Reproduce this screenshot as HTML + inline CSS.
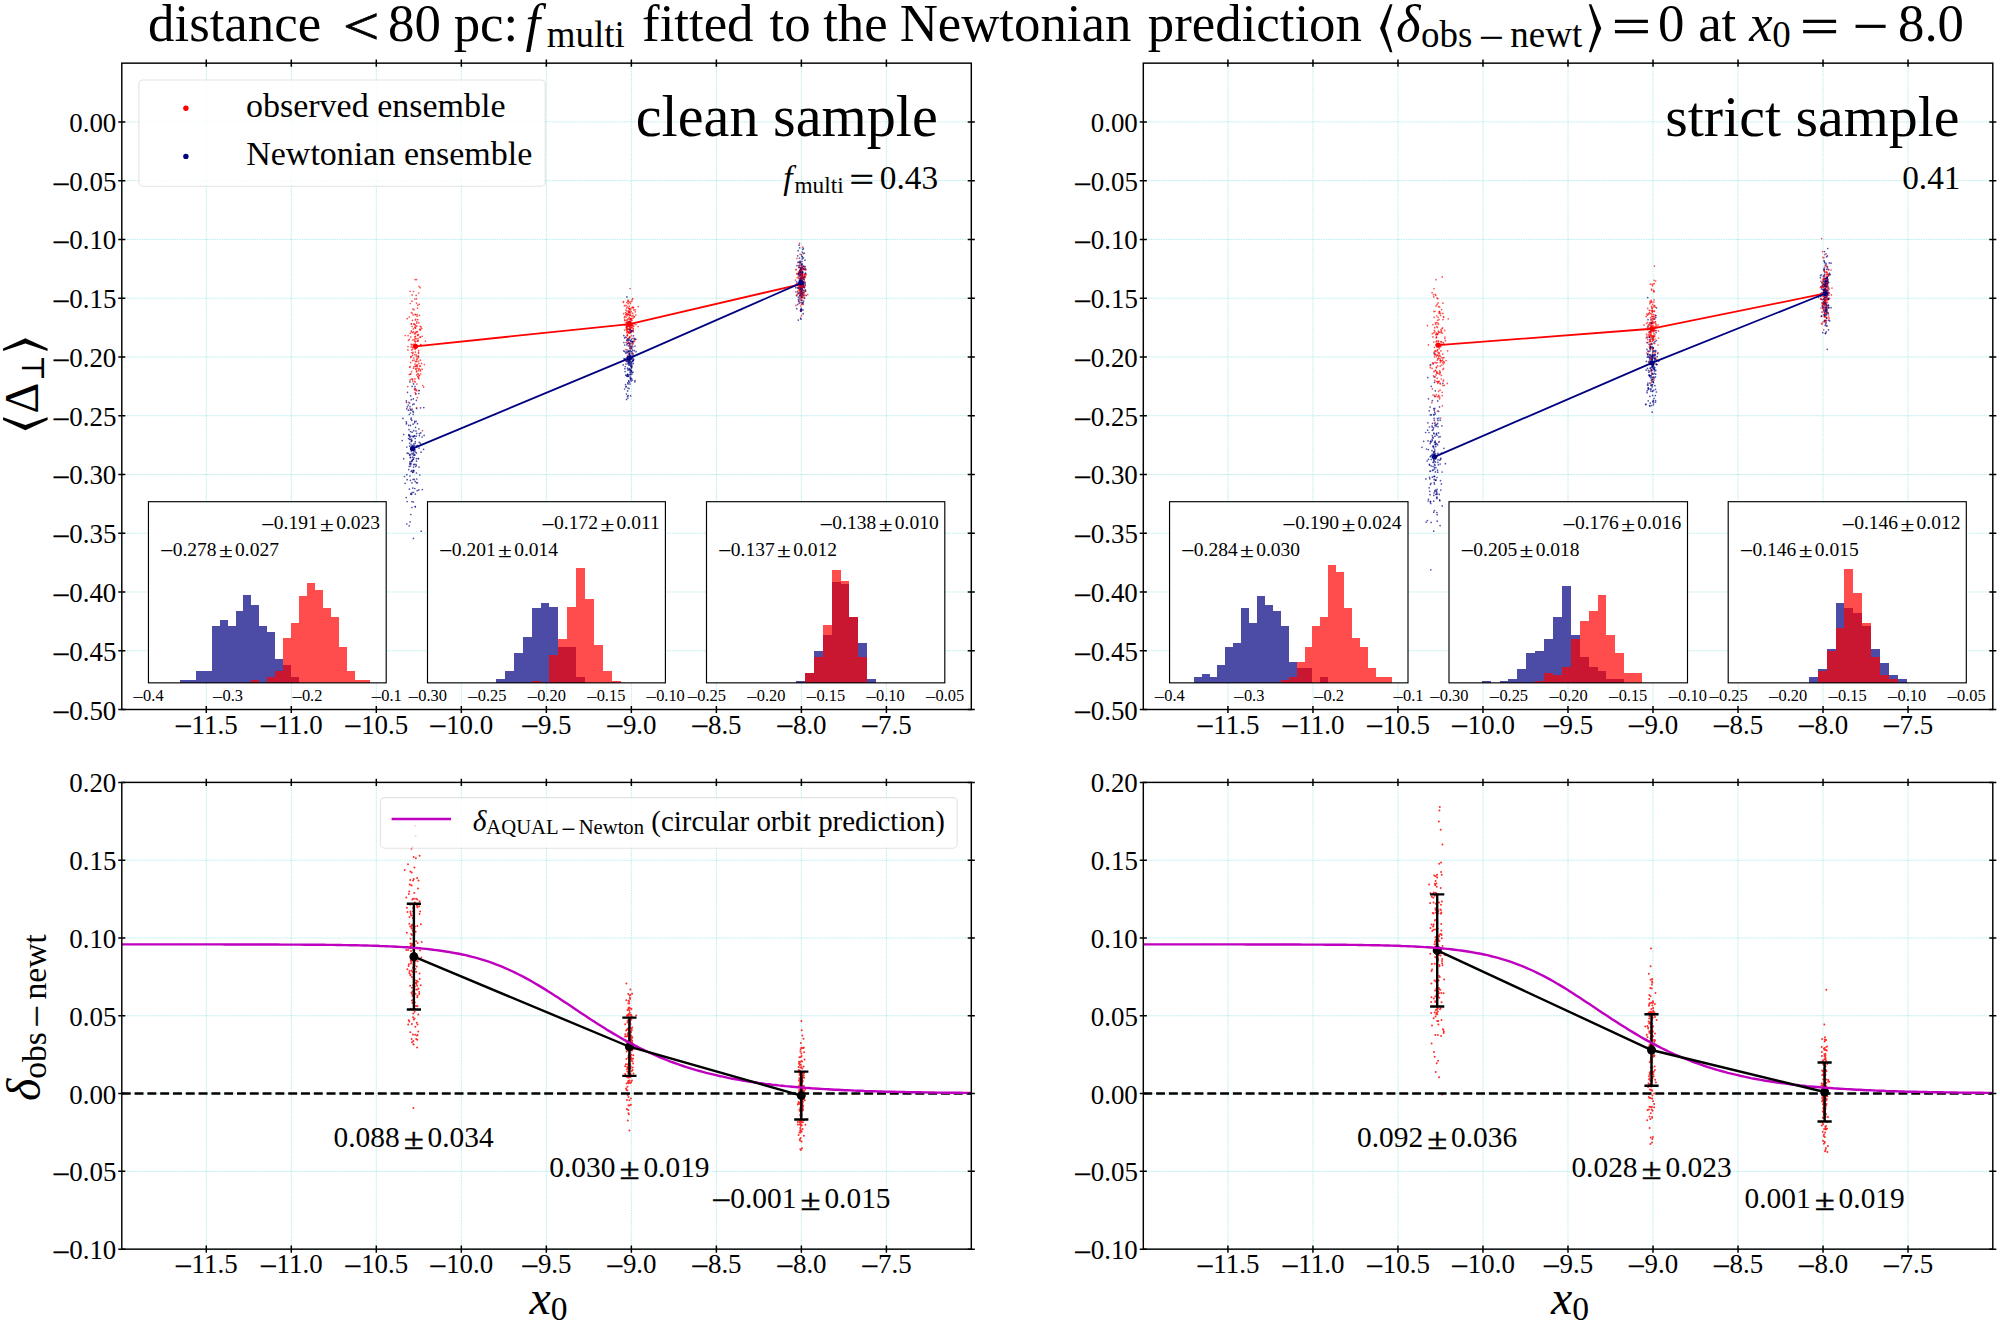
<!DOCTYPE html>
<html><head><meta charset="utf-8"><title>Wide binary gravity test: distance &lt; 80 pc</title>
<style>html,body{margin:0;padding:0;background:#fff}svg{display:block}text{font-family:"Liberation Serif",serif;fill:#000}text.math{font-family:"DejaVu Math TeX Gyre","DejaVu Sans",sans-serif}text.dsans{font-family:"DejaVu Sans",sans-serif}</style></head><body>
<svg width="2000" height="1324" viewBox="0 0 2000 1324">
<rect width="2000" height="1324" fill="#fff"/>
<defs><clipPath id="cb0"><rect x="121.8" y="782.4" width="849.5" height="466.75"/></clipPath><clipPath id="cb1"><rect x="1143.3" y="782.4" width="849.5" height="466.75"/></clipPath></defs>
<g>
<path d="M206.29,63.15V709.5M291.3,63.15V709.5M376.31,63.15V709.5M461.33,63.15V709.5M546.35,63.15V709.5M631.36,63.15V709.5M716.38,63.15V709.5M801.39,63.15V709.5M886.4,63.15V709.5M121.8,121.91H971.3M121.8,180.67H971.3M121.8,239.43H971.3M121.8,298.19H971.3M121.8,356.95H971.3M121.8,415.7H971.3M121.8,474.46H971.3M121.8,533.22H971.3M121.8,591.98H971.3M121.8,650.74H971.3M121.8,709.5H971.3" fill="none" stroke="#00bbbb" stroke-opacity="0.34" stroke-width="0.85" stroke-dasharray="1.5 1.0"/>
<path d="M410.1,408.5h0M420.3,366.2h0M412.2,326.5h0M414.5,333.8h0M415.2,349.3h0M412.7,355.6h0M410.3,303.5h0M418.0,338.7h0M416.9,321.8h0M408.1,335.7h0M424.4,364.5h0M419.2,304.3h0M412.6,379.8h0M418.9,378.7h0M413.7,358.0h0M415.3,366.1h0M418.5,361.4h0M410.7,362.6h0M417.7,319.7h0M420.8,344.9h0M634.3,316.8h0M632.2,345.3h0M628.2,303.7h0M627.2,319.9h0M627.0,325.0h0M627.7,323.8h0M630.5,328.9h0M631.8,301.3h0M623.4,302.3h0M629.4,337.8h0M626.5,326.5h0M631.3,320.1h0M632.0,307.5h0M627.4,355.4h0M628.3,312.0h0M626.9,302.5h0M630.6,328.4h0M625.2,324.7h0M626.5,308.0h0M627.7,319.3h0M801.1,297.9h0M805.2,269.9h0M801.5,275.6h0M801.5,315.7h0M800.6,306.0h0M800.7,286.6h0M801.8,299.9h0M800.7,269.6h0M802.2,281.9h0M801.5,277.3h0M802.5,272.9h0M800.5,268.1h0M800.9,287.2h0M801.8,276.5h0M801.5,280.9h0M801.5,274.5h0M803.8,277.3h0M799.1,267.1h0M797.3,277.5h0M802.9,289.6h0" stroke="#ff0000" stroke-opacity="0.68" stroke-width="1.7" stroke-linecap="round" fill="none"/>
<path d="M410.6,463.7h0M416.4,458.7h0M416.0,431.1h0M409.0,429.6h0M412.1,432.2h0M412.7,472.0h0M415.3,494.1h0M409.9,439.5h0M411.1,444.6h0M412.3,460.3h0M415.3,441.7h0M416.1,421.3h0M410.7,454.7h0M419.4,435.6h0M414.3,479.3h0M409.7,455.3h0M406.8,474.7h0M410.8,494.2h0M403.7,434.5h0M413.4,538.4h0M625.9,353.2h0M631.8,362.1h0M630.5,370.1h0M628.0,376.2h0M629.5,354.7h0M628.2,364.1h0M628.5,363.6h0M628.7,362.9h0M629.6,368.7h0M629.3,363.5h0M627.6,368.2h0M626.9,357.7h0M635.1,380.6h0M626.6,376.1h0M629.2,357.7h0M632.8,360.9h0M632.2,355.6h0M627.6,325.4h0M635.0,346.0h0M634.3,339.8h0M799.2,301.1h0M797.9,262.4h0M802.0,256.3h0M798.6,301.3h0M800.8,285.7h0M801.0,294.9h0M799.5,272.5h0M802.8,302.5h0M802.5,276.4h0M801.5,277.9h0M802.5,267.8h0M803.0,309.8h0M800.5,294.0h0M802.4,286.2h0M801.5,270.0h0M801.2,282.1h0M800.2,272.9h0M804.8,277.0h0M801.9,295.8h0M798.2,285.0h0" stroke="#000080" stroke-opacity="0.68" stroke-width="1.7" stroke-linecap="round" fill="none"/>
<path d="M420.5,336.9h0M414.4,389.3h0M418.9,369.3h0M409.3,317.1h0M414.9,378.9h0M417.2,314.5h0M410.4,374.2h0M415.2,338.3h0M422.1,369.2h0M425.4,341.1h0M418.5,370.7h0M418.6,353.3h0M411.9,301.2h0M410.9,356.5h0M410.1,291.3h0M417.6,358.8h0M418.4,378.1h0M413.0,344.3h0M410.8,357.4h0M416.5,298.9h0M632.8,341.4h0M636.0,339.3h0M629.6,337.5h0M626.2,342.6h0M629.7,324.3h0M627.2,330.9h0M630.7,323.7h0M626.5,315.1h0M628.5,301.1h0M629.5,321.4h0M630.9,348.4h0M629.3,306.2h0M632.9,325.8h0M629.8,309.2h0M624.6,330.1h0M632.0,320.3h0M628.7,326.0h0M627.7,324.6h0M633.6,307.7h0M626.8,332.7h0M800.8,282.5h0M804.2,297.3h0M801.2,280.1h0M798.9,266.0h0M805.9,291.0h0M802.2,303.4h0M800.4,284.8h0M799.8,289.9h0M802.5,283.9h0M799.9,290.9h0M802.1,282.9h0M803.8,295.9h0M798.4,265.5h0M800.6,286.6h0M802.3,277.8h0M804.8,274.9h0M803.3,285.7h0M800.4,278.5h0M804.4,286.8h0M800.6,289.2h0" stroke="#ff0000" stroke-opacity="0.68" stroke-width="1.7" stroke-linecap="round" fill="none"/>
<path d="M414.8,450.3h0M417.5,423.7h0M414.6,435.7h0M406.2,497.6h0M411.6,440.7h0M415.3,506.5h0M404.5,476.5h0M409.6,403.0h0M415.1,443.4h0M412.9,411.1h0M405.1,483.3h0M410.8,514.5h0M412.8,472.3h0M420.6,407.8h0M411.0,419.2h0M409.2,414.5h0M413.6,453.2h0M414.0,451.3h0M414.8,454.9h0M418.2,356.4h0M628.7,351.4h0M626.2,360.1h0M631.3,371.2h0M629.1,388.5h0M628.8,381.3h0M627.4,396.3h0M628.0,376.5h0M630.0,384.1h0M632.0,374.0h0M624.0,358.5h0M623.2,364.9h0M632.2,343.8h0M627.3,343.5h0M631.4,341.5h0M629.9,344.2h0M632.9,353.8h0M632.0,366.6h0M628.8,350.8h0M629.1,362.2h0M630.4,361.5h0M802.2,288.9h0M795.8,287.7h0M801.7,296.2h0M802.8,272.8h0M804.1,279.2h0M801.6,310.0h0M799.7,273.1h0M805.2,291.3h0M803.3,304.1h0M803.9,266.5h0M800.6,283.7h0M802.5,278.5h0M797.5,285.4h0M802.2,284.0h0M796.8,308.7h0M799.0,272.9h0M798.1,293.7h0M803.6,283.3h0M803.1,284.6h0M799.9,297.0h0" stroke="#000080" stroke-opacity="0.68" stroke-width="1.7" stroke-linecap="round" fill="none"/>
<path d="M416.7,323.1h0M415.0,314.4h0M420.3,329.3h0M415.1,279.6h0M415.2,324.9h0M411.3,332.0h0M416.0,368.8h0M420.6,370.9h0M415.7,341.4h0M415.8,319.4h0M417.1,316.2h0M416.6,371.9h0M417.5,332.0h0M417.5,341.1h0M417.8,376.6h0M412.5,332.5h0M416.6,407.7h0M409.4,339.3h0M416.5,279.6h0M410.7,373.9h0M629.7,322.1h0M627.6,321.4h0M633.2,329.3h0M628.5,352.8h0M630.1,319.8h0M625.7,361.0h0M633.4,343.7h0M626.6,330.2h0M632.0,318.7h0M632.5,313.1h0M632.8,313.5h0M634.4,316.5h0M626.3,329.0h0M630.6,308.5h0M629.9,327.7h0M630.6,309.7h0M632.5,353.2h0M629.8,336.6h0M627.3,331.7h0M629.2,324.3h0M801.0,286.5h0M802.1,278.1h0M799.0,298.8h0M807.8,294.6h0M803.8,293.4h0M801.8,290.5h0M800.1,270.2h0M798.9,284.2h0M802.1,287.5h0M802.8,282.1h0M800.5,271.3h0M800.9,292.7h0M802.5,271.7h0M801.2,311.3h0M797.4,294.3h0M802.7,266.4h0M801.8,265.4h0M802.8,281.5h0M799.7,288.8h0M796.9,274.0h0" stroke="#ff0000" stroke-opacity="0.68" stroke-width="1.7" stroke-linecap="round" fill="none"/>
<path d="M412.4,445.6h0M407.5,392.3h0M412.9,454.0h0M412.8,404.6h0M416.4,482.7h0M415.9,464.3h0M409.9,437.0h0M415.6,466.4h0M416.5,461.2h0M412.0,453.3h0M416.3,465.4h0M413.3,398.9h0M413.4,412.2h0M412.1,492.6h0M415.8,393.7h0M423.6,449.3h0M413.6,449.0h0M408.3,453.3h0M411.8,420.3h0M410.5,425.4h0M631.6,351.5h0M627.9,376.0h0M625.5,384.7h0M629.8,352.9h0M629.4,329.2h0M629.1,339.9h0M626.9,296.9h0M631.2,381.0h0M624.9,368.7h0M628.3,395.7h0M633.0,372.2h0M626.6,327.3h0M630.7,331.9h0M630.8,374.7h0M630.7,363.4h0M625.1,371.6h0M632.3,380.1h0M630.0,362.1h0M630.9,363.5h0M630.4,356.6h0M803.7,301.0h0M801.3,285.6h0M797.0,265.7h0M800.3,292.7h0M797.5,291.9h0M801.3,282.2h0M801.9,291.6h0M799.6,265.1h0M802.8,277.0h0M803.4,248.4h0M799.3,280.4h0M802.3,252.3h0M801.0,291.6h0M800.6,280.1h0M804.7,298.1h0M799.7,288.7h0M800.4,287.6h0M801.0,274.6h0M802.4,264.1h0M802.8,286.8h0" stroke="#000080" stroke-opacity="0.68" stroke-width="1.7" stroke-linecap="round" fill="none"/>
<path d="M415.2,345.9h0M417.3,397.6h0M413.9,366.8h0M415.9,325.9h0M409.3,374.5h0M412.2,347.3h0M418.1,356.0h0M411.1,356.6h0M418.0,341.2h0M410.2,333.3h0M412.1,313.1h0M411.3,323.9h0M415.5,361.6h0M417.5,308.1h0M411.4,312.6h0M414.8,388.5h0M421.7,328.4h0M414.3,324.1h0M412.4,320.3h0M417.0,331.6h0M633.7,355.2h0M626.3,313.7h0M629.7,311.4h0M626.9,314.0h0M632.5,330.9h0M625.0,305.4h0M628.6,331.3h0M629.2,312.5h0M629.8,325.0h0M635.9,324.5h0M633.7,326.2h0M626.7,324.5h0M635.3,309.8h0M626.3,305.6h0M624.4,305.8h0M625.5,312.5h0M630.0,315.6h0M630.9,318.4h0M623.5,301.5h0M630.7,329.9h0M798.7,288.5h0M801.9,265.4h0M805.7,269.7h0M806.3,274.6h0M801.9,293.6h0M798.3,272.1h0M800.6,286.5h0M802.3,286.3h0M802.2,288.5h0M801.5,285.0h0M804.1,277.6h0M799.4,273.5h0M796.8,273.5h0M799.5,243.4h0M798.9,287.5h0M806.0,269.7h0M800.9,291.2h0M798.3,285.7h0M802.6,297.1h0M803.4,269.1h0" stroke="#ff0000" stroke-opacity="0.68" stroke-width="1.7" stroke-linecap="round" fill="none"/>
<path d="M413.9,464.6h0M412.2,446.3h0M422.3,489.5h0M415.5,389.0h0M419.8,475.0h0M410.0,476.1h0M411.9,470.7h0M420.5,443.4h0M406.4,424.0h0M413.2,459.1h0M406.8,447.0h0M418.5,458.6h0M407.3,406.8h0M411.6,440.5h0M412.0,501.6h0M406.3,400.8h0M422.1,437.0h0M412.1,386.4h0M419.0,467.1h0M410.1,463.4h0M629.7,353.9h0M632.9,346.8h0M633.4,335.8h0M624.6,359.4h0M627.5,361.5h0M629.1,358.0h0M623.7,350.9h0M633.5,360.3h0M627.5,374.2h0M631.1,366.6h0M630.2,346.1h0M629.0,374.9h0M626.9,344.9h0M628.6,380.8h0M629.8,348.2h0M631.7,348.5h0M629.0,361.6h0M628.5,358.5h0M628.9,361.9h0M633.1,330.8h0M799.2,303.3h0M804.0,283.1h0M805.0,285.4h0M805.4,289.9h0M801.5,271.0h0M800.1,267.1h0M798.9,292.7h0M801.9,292.8h0M801.0,319.2h0M801.1,291.6h0M799.9,271.0h0M796.5,295.6h0M800.6,270.0h0M800.8,273.2h0M800.4,274.0h0M798.2,273.7h0M800.6,283.7h0M800.9,268.2h0M798.8,267.6h0M802.5,277.6h0" stroke="#000080" stroke-opacity="0.68" stroke-width="1.7" stroke-linecap="round" fill="none"/>
<path d="M414.7,381.4h0M412.8,353.6h0M408.7,402.3h0M418.6,350.6h0M413.3,291.5h0M415.5,327.9h0M411.5,323.8h0M420.4,360.2h0M418.3,373.8h0M419.2,375.3h0M415.1,343.0h0M417.3,368.1h0M418.9,363.6h0M419.4,315.4h0M416.7,390.7h0M415.3,381.9h0M414.1,360.2h0M412.7,349.1h0M411.8,349.9h0M416.9,384.1h0M628.8,332.4h0M631.4,323.6h0M628.5,345.8h0M631.9,327.3h0M631.0,325.0h0M626.3,337.5h0M633.4,331.7h0M630.1,315.2h0M631.5,327.2h0M632.9,323.3h0M626.9,310.9h0M629.3,332.2h0M627.3,339.0h0M627.0,324.8h0M630.2,318.7h0M630.4,347.7h0M633.1,315.7h0M633.2,328.3h0M629.4,329.6h0M627.2,335.4h0M801.4,280.3h0M801.7,281.8h0M803.5,284.7h0M802.4,272.4h0M799.8,289.1h0M802.5,278.5h0M803.3,253.5h0M802.0,284.9h0M803.1,290.6h0M802.5,295.1h0M800.8,273.6h0M801.0,282.4h0M802.6,292.0h0M800.1,293.0h0M803.7,282.8h0M803.9,295.0h0M797.0,258.4h0M801.2,285.4h0M799.7,285.2h0M800.0,284.2h0" stroke="#ff0000" stroke-opacity="0.68" stroke-width="1.7" stroke-linecap="round" fill="none"/>
<path d="M407.1,453.2h0M413.5,492.3h0M413.4,459.3h0M423.8,407.6h0M408.7,425.3h0M406.8,524.0h0M410.0,406.6h0M413.8,436.1h0M414.8,421.4h0M409.8,446.2h0M411.4,441.4h0M414.7,445.7h0M416.8,445.8h0M410.4,480.4h0M413.2,414.3h0M402.2,440.6h0M409.0,435.2h0M414.3,436.5h0M412.6,457.1h0M411.9,449.3h0M630.4,365.3h0M627.8,370.0h0M626.2,352.0h0M628.5,340.1h0M627.1,352.7h0M628.5,360.5h0M633.3,341.5h0M631.5,370.5h0M630.2,370.8h0M630.7,378.3h0M634.2,338.4h0M626.5,394.1h0M630.8,379.1h0M629.0,354.1h0M630.0,351.5h0M629.8,329.8h0M628.7,351.2h0M631.1,366.2h0M623.8,335.6h0M630.4,340.8h0M801.1,283.0h0M801.5,264.2h0M802.0,261.4h0M800.7,291.2h0M801.0,270.6h0M802.3,281.5h0M802.8,249.5h0M803.1,286.8h0M800.8,291.0h0M802.8,295.1h0M803.6,269.4h0M798.3,297.1h0M800.3,273.2h0M801.1,289.5h0M801.2,263.4h0M805.0,260.2h0M803.7,266.2h0M800.9,309.6h0M801.0,302.7h0M798.3,320.1h0" stroke="#000080" stroke-opacity="0.68" stroke-width="1.7" stroke-linecap="round" fill="none"/>
<path d="M414.6,341.1h0M407.9,349.9h0M414.9,336.8h0M419.5,375.6h0M414.5,339.7h0M408.5,340.4h0M415.0,364.2h0M418.5,352.3h0M416.3,361.4h0M413.9,309.7h0M422.5,430.7h0M422.7,385.5h0M415.1,392.5h0M418.6,356.6h0M417.0,364.7h0M418.5,357.5h0M421.0,326.9h0M418.6,390.5h0M415.8,369.2h0M413.0,352.4h0M638.1,326.6h0M635.3,311.8h0M629.2,317.4h0M627.0,313.7h0M628.4,328.9h0M630.3,303.6h0M632.6,307.7h0M632.1,324.4h0M630.7,358.2h0M628.8,323.4h0M630.0,288.5h0M628.7,324.9h0M629.7,337.4h0M629.2,302.1h0M630.9,332.1h0M624.4,317.7h0M628.6,314.2h0M628.7,343.2h0M626.4,322.5h0M629.0,308.7h0M801.6,304.5h0M800.9,300.3h0M802.5,287.4h0M802.0,283.4h0M802.1,297.7h0M799.7,263.1h0M800.6,277.7h0M804.4,267.9h0M796.1,269.3h0M804.9,285.8h0M800.1,254.3h0M803.8,281.7h0M795.9,305.4h0M800.4,310.7h0M803.1,283.1h0M801.6,272.8h0M803.4,282.3h0M799.5,262.6h0M800.1,286.6h0M799.9,276.4h0" stroke="#ff0000" stroke-opacity="0.68" stroke-width="1.7" stroke-linecap="round" fill="none"/>
<path d="M418.8,489.9h0M411.6,439.1h0M408.5,438.6h0M413.4,455.1h0M413.4,502.0h0M408.3,405.0h0M416.5,452.9h0M419.1,448.1h0M410.4,457.3h0M409.3,466.4h0M412.3,460.3h0M417.4,482.8h0M410.5,466.0h0M409.9,381.9h0M410.4,409.9h0M413.6,383.9h0M413.5,467.1h0M412.0,507.5h0M417.2,490.7h0M421.2,531.2h0M631.4,339.3h0M627.0,340.8h0M627.0,349.8h0M634.7,381.8h0M627.2,375.3h0M628.6,326.1h0M627.5,357.4h0M628.0,388.0h0M627.8,357.3h0M623.9,342.5h0M636.0,351.7h0M627.6,357.9h0M630.6,395.9h0M629.4,357.2h0M633.2,360.4h0M631.5,330.9h0M632.6,358.1h0M632.7,359.0h0M631.8,365.4h0M629.7,360.2h0M799.1,245.2h0M804.0,290.6h0M797.6,288.0h0M802.5,281.6h0M799.7,273.8h0M800.6,286.9h0M801.0,281.3h0M805.1,282.4h0M801.9,300.6h0M802.3,256.8h0M803.4,257.9h0M796.6,281.8h0M805.2,284.1h0M797.7,255.8h0M799.7,247.8h0M802.7,281.4h0M798.7,273.7h0M797.6,287.9h0M803.7,277.4h0M800.6,318.1h0" stroke="#000080" stroke-opacity="0.68" stroke-width="1.7" stroke-linecap="round" fill="none"/>
<path d="M412.4,378.9h0M415.4,336.4h0M419.9,337.4h0M416.6,365.6h0M415.7,394.2h0M416.5,303.1h0M415.6,333.6h0M417.6,334.9h0M411.2,344.4h0M408.0,346.6h0M413.9,323.9h0M411.1,346.8h0M421.6,363.4h0M414.9,327.2h0M414.5,344.8h0M409.7,367.2h0M416.6,370.9h0M413.1,314.9h0M419.8,329.3h0M418.7,293.0h0M626.7,328.4h0M627.7,315.6h0M628.7,324.4h0M628.8,310.8h0M628.0,300.1h0M632.5,338.3h0M630.0,327.8h0M630.4,319.0h0M630.1,332.3h0M627.7,334.8h0M627.1,328.6h0M631.8,327.6h0M628.5,332.5h0M624.7,319.8h0M623.6,313.6h0M630.1,314.4h0M627.5,315.3h0M629.3,308.6h0M628.0,341.7h0M628.4,325.5h0M802.4,274.4h0M802.3,295.3h0M801.0,279.5h0M800.7,278.8h0M800.7,270.2h0M801.5,268.8h0M799.3,271.5h0M801.2,292.1h0M801.0,274.5h0M800.2,270.5h0M800.1,282.7h0M804.4,274.3h0M800.0,274.1h0M802.2,269.2h0M804.2,282.2h0M802.9,277.5h0M801.3,280.8h0M803.4,282.4h0M798.3,290.4h0M798.7,287.1h0" stroke="#ff0000" stroke-opacity="0.68" stroke-width="1.7" stroke-linecap="round" fill="none"/>
<path d="M410.5,413.0h0M416.6,408.5h0M413.7,444.0h0M424.1,435.4h0M409.3,435.7h0M411.3,451.1h0M413.1,424.2h0M407.2,479.7h0M411.9,461.4h0M415.4,452.1h0M407.2,501.5h0M413.1,479.4h0M419.4,433.6h0M410.4,436.4h0M409.2,525.8h0M403.0,418.4h0M412.2,436.3h0M406.5,423.0h0M414.8,449.5h0M418.9,428.8h0M632.0,353.8h0M625.3,366.5h0M632.0,372.6h0M631.5,378.3h0M630.4,356.3h0M626.0,364.0h0M633.2,363.4h0M627.8,382.9h0M631.3,371.4h0M624.6,389.0h0M629.1,342.8h0M627.8,339.1h0M627.5,351.6h0M627.8,360.1h0M634.3,350.7h0M629.5,382.5h0M630.5,379.9h0M635.3,339.2h0M625.7,375.2h0M633.7,359.2h0M803.2,313.7h0M802.3,275.7h0M800.9,284.7h0M804.8,276.5h0M800.7,280.9h0M805.5,273.5h0M799.4,278.4h0M799.2,284.4h0M799.8,276.0h0M801.8,291.3h0M798.9,262.0h0M799.8,295.6h0M804.3,287.5h0M801.7,269.1h0M803.7,287.0h0M802.1,268.3h0M800.1,261.2h0M799.7,270.7h0M801.7,287.9h0M801.5,254.8h0" stroke="#000080" stroke-opacity="0.68" stroke-width="1.7" stroke-linecap="round" fill="none"/>
<path d="M412.6,360.6h0M417.1,366.5h0M405.2,335.5h0M412.9,309.1h0M420.2,330.2h0M418.5,334.7h0M416.2,295.4h0M415.4,366.5h0M410.1,380.1h0M410.3,366.5h0M416.3,354.9h0M422.2,336.3h0M407.3,318.7h0M417.9,335.4h0M417.8,305.2h0M419.1,368.7h0M412.2,294.9h0M413.5,368.3h0M415.7,314.7h0M411.6,371.7h0M629.0,321.6h0M626.1,317.2h0M629.4,344.9h0M632.2,299.7h0M631.4,335.6h0M624.8,320.6h0M625.9,314.5h0M625.9,310.0h0M628.8,332.9h0M631.8,331.0h0M630.4,319.2h0M624.8,316.4h0M629.6,312.2h0M631.7,324.8h0M628.3,333.0h0M634.6,341.3h0M627.7,301.5h0M632.7,341.8h0M635.8,315.0h0M626.1,320.4h0M800.5,296.4h0M800.8,285.5h0M801.1,275.1h0M805.2,275.9h0M804.8,274.4h0M801.2,284.6h0M801.8,266.9h0M799.4,288.6h0M802.0,274.2h0M798.5,278.4h0M804.2,292.0h0M800.2,291.5h0M802.5,274.5h0M798.6,282.8h0M804.2,280.1h0M802.6,247.1h0M805.4,276.6h0M801.4,281.8h0M797.9,274.6h0M799.7,290.3h0" stroke="#ff0000" stroke-opacity="0.68" stroke-width="1.7" stroke-linecap="round" fill="none"/>
<path d="M414.8,488.5h0M409.6,454.3h0M415.1,481.3h0M410.9,463.9h0M408.4,410.2h0M410.7,395.8h0M413.6,446.4h0M411.3,461.5h0M414.6,422.7h0M420.8,432.9h0M415.0,386.6h0M415.5,427.4h0M410.1,521.8h0M417.7,445.6h0M414.0,457.7h0M416.5,473.0h0M409.7,443.1h0M413.5,445.6h0M403.7,458.7h0M411.3,399.7h0M628.6,369.3h0M627.9,398.0h0M628.5,369.3h0M624.7,345.0h0M625.5,337.0h0M626.5,399.4h0M628.1,383.9h0M631.5,367.8h0M632.5,342.2h0M628.6,338.5h0M630.6,332.5h0M630.7,330.9h0M629.0,365.2h0M630.2,374.4h0M628.0,343.3h0M631.1,362.5h0M629.0,357.8h0M629.7,364.2h0M630.2,364.7h0M630.0,343.4h0M800.2,275.2h0M800.1,295.3h0M804.3,253.2h0M803.5,279.0h0M801.9,272.9h0M800.6,268.9h0M800.4,288.8h0M805.5,268.9h0M800.1,299.1h0M806.2,295.4h0M799.9,287.1h0M798.2,250.7h0M805.5,273.0h0M801.1,265.1h0M804.5,287.6h0M802.2,273.9h0M800.8,311.2h0M803.3,285.0h0M800.7,275.3h0M802.2,289.4h0" stroke="#000080" stroke-opacity="0.68" stroke-width="1.7" stroke-linecap="round" fill="none"/>
<path d="M410.8,337.1h0M412.1,345.0h0M415.2,332.4h0M416.9,326.1h0M415.4,352.1h0M415.8,348.2h0M412.9,339.9h0M412.8,381.6h0M419.8,366.1h0M415.3,390.3h0M415.2,346.2h0M419.1,286.3h0M420.2,326.3h0M420.3,369.8h0M417.0,365.5h0M415.3,320.0h0M416.6,359.2h0M416.2,389.8h0M420.8,374.0h0M416.6,374.9h0M628.6,314.2h0M631.1,311.7h0M638.2,306.6h0M624.7,324.8h0M631.0,318.9h0M630.3,349.3h0M628.4,323.4h0M627.2,335.7h0M628.1,326.0h0M628.7,308.0h0M626.1,322.6h0M633.8,309.9h0M626.5,326.6h0M628.3,318.8h0M627.7,329.3h0M628.4,356.9h0M629.8,333.2h0M627.5,327.4h0M628.9,321.9h0M634.2,323.9h0M798.7,285.3h0M804.6,278.0h0M800.0,292.8h0M799.7,283.6h0M802.6,285.4h0M801.9,281.9h0M802.3,303.9h0M800.2,262.4h0M797.1,284.2h0M798.4,276.7h0M796.7,295.3h0M804.0,298.5h0M803.2,282.9h0M800.5,287.0h0M802.6,275.5h0M802.7,294.0h0M802.6,294.7h0M802.4,279.3h0M803.2,275.0h0M801.5,272.3h0" stroke="#ff0000" stroke-opacity="0.68" stroke-width="1.7" stroke-linecap="round" fill="none"/>
<path d="M409.4,435.6h0M408.8,434.6h0M419.2,442.4h0M406.8,408.8h0M412.0,482.8h0M412.1,409.1h0M414.6,455.0h0M416.4,400.3h0M406.5,402.3h0M410.5,431.6h0M409.9,461.8h0M415.2,438.5h0M416.2,436.2h0M411.0,493.7h0M410.5,457.7h0M408.7,469.6h0M414.0,403.9h0M418.9,393.5h0M414.0,470.5h0M409.9,464.1h0M627.6,374.8h0M625.9,386.8h0M629.4,369.8h0M628.0,356.7h0M628.1,363.4h0M629.3,360.7h0M627.6,390.9h0M630.8,372.8h0M630.6,340.9h0M627.1,361.3h0M630.5,369.6h0M627.0,340.2h0M631.5,367.7h0M631.2,346.3h0M629.5,355.1h0M631.9,352.0h0M632.3,341.7h0M630.7,321.9h0M624.6,337.9h0M629.9,372.5h0M801.0,309.4h0M797.6,304.5h0M802.1,272.4h0M800.2,262.4h0M801.0,286.7h0M802.2,258.9h0M798.3,299.8h0M802.4,272.7h0M802.5,277.2h0M805.3,266.7h0M803.0,302.8h0M802.0,267.4h0M799.9,280.0h0M801.2,293.8h0M798.3,288.1h0M802.1,284.8h0M800.9,277.7h0M800.5,293.8h0M801.3,294.0h0M802.2,280.6h0" stroke="#000080" stroke-opacity="0.68" stroke-width="1.7" stroke-linecap="round" fill="none"/>
<path d="M417.9,374.0h0M415.4,328.1h0M420.7,344.5h0M407.7,386.6h0M416.9,361.0h0M418.4,377.1h0M411.1,379.0h0M423.7,387.1h0M414.9,299.1h0M414.9,354.7h0M411.4,330.8h0M418.8,322.9h0M416.4,356.8h0M413.3,331.9h0M416.4,331.8h0M418.1,340.4h0M420.1,287.7h0M416.3,338.7h0M411.8,352.5h0M413.4,328.9h0M632.4,325.6h0M628.7,311.7h0M631.9,315.9h0M627.4,329.1h0M630.1,312.7h0M625.6,349.6h0M626.4,327.6h0M627.2,325.9h0M632.8,307.1h0M630.1,330.9h0M631.0,343.0h0M629.9,321.6h0M630.5,302.0h0M630.6,326.6h0M631.6,325.2h0M629.9,326.6h0M627.0,323.2h0M627.4,307.1h0M632.8,298.5h0M633.3,317.8h0M796.6,283.5h0M795.5,280.1h0M804.0,292.5h0M802.6,267.7h0M796.0,269.8h0M801.7,270.2h0M799.5,302.0h0M800.2,272.9h0M795.8,291.8h0M802.9,277.4h0M801.1,278.2h0M803.0,268.9h0M803.6,285.5h0M804.0,287.3h0M804.8,295.1h0M801.9,297.2h0M801.8,276.5h0M800.0,293.9h0M802.4,275.4h0M800.8,287.8h0" stroke="#ff0000" stroke-opacity="0.68" stroke-width="1.7" stroke-linecap="round" fill="none"/>
<path d="M409.4,489.2h0M409.9,439.2h0M406.3,421.8h0M419.2,390.6h0M412.8,488.1h0M411.3,418.0h0M421.1,452.2h0M413.4,470.3h0M418.2,458.5h0M413.6,471.7h0M416.7,433.4h0M412.8,447.5h0M411.2,410.0h0M414.1,464.3h0M415.3,506.8h0M416.7,479.0h0M413.3,436.8h0M411.6,494.3h0M411.1,471.4h0M413.7,430.7h0M630.1,376.8h0M631.7,364.1h0M626.9,361.6h0M631.4,347.4h0M630.5,358.3h0M630.6,355.5h0M626.2,386.6h0M627.2,359.6h0M632.6,350.2h0M631.8,331.0h0M629.3,346.0h0M632.4,357.3h0M630.2,378.2h0M628.4,359.0h0M625.3,358.8h0M632.2,361.2h0M629.1,356.3h0M630.2,350.6h0M624.7,351.6h0M628.1,322.4h0M801.8,282.4h0M798.8,274.9h0M804.0,269.2h0M801.3,308.3h0M802.0,283.4h0M801.3,278.8h0M799.3,281.5h0M801.8,297.4h0M800.4,272.2h0M799.5,258.1h0M801.5,284.8h0M802.8,293.6h0M802.5,271.5h0M801.7,282.2h0M800.0,280.8h0M800.6,279.3h0M801.0,289.0h0M798.3,282.7h0M802.9,292.8h0M801.4,310.4h0" stroke="#000080" stroke-opacity="0.68" stroke-width="1.7" stroke-linecap="round" fill="none"/>
<polyline points="415.5,346.37 629.5,324.04 801.3,284.08" fill="none" stroke="#ff0000" stroke-width="1.8" stroke-linejoin="round"/>
<circle cx="415.5" cy="346.37" r="2.6" fill="#ff0000"/>
<circle cx="629.5" cy="324.04" r="2.6" fill="#ff0000"/>
<circle cx="801.3" cy="284.08" r="2.6" fill="#ff0000"/>
<polyline points="412.5,448.61 629.5,358.12 801.3,282.91" fill="none" stroke="#000080" stroke-width="1.8" stroke-linejoin="round"/>
<circle cx="412.5" cy="448.61" r="2.6" fill="#000080"/>
<circle cx="629.5" cy="358.12" r="2.6" fill="#000080"/>
<circle cx="801.3" cy="282.91" r="2.6" fill="#000080"/>
<rect x="148.45" y="501.7" width="237.75" height="181.15" fill="#fff"/>
<path d="M180.04,682.85V680.25H187.97V682.85ZM187.97,682.85V680.25H195.9V682.85ZM195.9,682.85V670.76H203.83V682.85ZM203.83,682.85V670.76H211.76V682.85ZM211.76,682.85V626.04H219.69V682.85ZM219.69,682.85V619.54H227.62V682.85ZM227.62,682.85V626.04H235.55V682.85ZM235.55,682.85V610.7H243.48V682.85ZM243.48,682.85V595.49H251.41V682.85ZM251.41,682.85V604.85H259.34V682.85ZM259.34,682.85V626.04H267.27V682.85ZM267.27,682.85V631.89H275.21V682.85ZM275.21,682.85V659.19H283.14V682.85ZM283.14,682.85V664.65H291.07V682.85ZM291.07,682.85V677H299V682.85Z" fill="#000080" fill-opacity="0.7" shape-rendering="crispEdges"/>
<path d="M251.41,682.85V679.86H259.34V682.85ZM267.27,682.85V677H275.21V682.85ZM275.21,682.85V670.76H283.14V682.85ZM283.14,682.85V637.74H291.07V682.85ZM291.07,682.85V623.05H299V682.85ZM299,682.85V595.75H306.93V682.85ZM306.93,682.85V583.4H314.86V682.85ZM314.86,682.85V589.9H322.79V682.85ZM322.79,682.85V607.84H330.72V682.85ZM330.72,682.85V616.81H338.65V682.85ZM338.65,682.85V646.84H346.58V682.85ZM346.58,682.85V670.76H354.51V682.85ZM354.51,682.85V680.25H362.44V682.85ZM362.44,682.85V680.25H370.37V682.85Z" fill="#ff0000" fill-opacity="0.7" shape-rendering="crispEdges"/>
<rect x="148.45" y="501.7" width="237.75" height="181.15" fill="none" stroke="#000" stroke-width="1.15"/>
<text transform="translate(132.58,702.55) scale(1.186,1.000)" font-size="16.4" stroke="#000" stroke-width="0.23">−</text>
<text transform="translate(143.11,701.4) scale(1.000,1.020)" font-size="16.4">0.4</text>
<text transform="translate(212.02,702.55) scale(1.186,1.000)" font-size="16.4" stroke="#000" stroke-width="0.23">−</text>
<text transform="translate(222.55,701.4) scale(1.000,1.020)" font-size="16.4">0.3</text>
<text transform="translate(291.4,702.55) scale(1.186,1.000)" font-size="16.4" stroke="#000" stroke-width="0.23">−</text>
<text transform="translate(301.93,701.4) scale(1.000,1.020)" font-size="16.4">0.2</text>
<text transform="translate(370.69,702.55) scale(1.186,1.000)" font-size="16.4" stroke="#000" stroke-width="0.23">−</text>
<text transform="translate(381.22,701.4) scale(1.000,1.020)" font-size="16.4">0.1</text>
<text transform="translate(261.27,530.66) scale(1.186,1.000)" font-size="19.5" stroke="#000" stroke-width="0.27">−</text>
<text transform="translate(273.79,529.3) scale(1.000,1.020)" font-size="19.5">0.191</text>
<text transform="translate(320.34,530.66) scale(1.246,1.000)" font-size="19.5" stroke="#000" stroke-width="0.27">±</text>
<text transform="translate(336.19,529.3) scale(1.000,1.020)" font-size="19.5">0.023</text>
<text transform="translate(160.2,557.37) scale(1.186,1.000)" font-size="19.5" stroke="#000" stroke-width="0.27">−</text>
<text transform="translate(172.72,556) scale(1.000,1.020)" font-size="19.5">0.278</text>
<text transform="translate(219.27,557.37) scale(1.246,1.000)" font-size="19.5" stroke="#000" stroke-width="0.27">±</text>
<text transform="translate(235.12,556) scale(1.000,1.020)" font-size="19.5">0.027</text>
<rect x="427.5" y="501.7" width="237.9" height="181.15" fill="#fff"/>
<path d="M495.75,682.85V679.34H505.11V682.85ZM505.11,682.85V670.76H513.95V682.85ZM513.95,682.85V652.69H522.92V682.85ZM522.92,682.85V636.7H531.76V682.85ZM531.76,682.85V608.36H540.86V682.85ZM540.86,682.85V602.51H549.05V682.85ZM549.05,682.85V607.06H558.16V682.85ZM558.16,682.85V646.84H567.13V682.85ZM567.13,682.85V646.84H575.97V682.85ZM575.97,682.85V677H585.07V682.85Z" fill="#000080" fill-opacity="0.7" shape-rendering="crispEdges"/>
<path d="M531.76,682.85V680.9H540.86V682.85ZM549.05,682.85V654.9H558.16V682.85ZM558.16,682.85V638.65H567.13V682.85ZM567.13,682.85V607.06H575.97V682.85ZM575.97,682.85V568.19H585.07V682.85ZM585.07,682.85V598.61H593.91V682.85ZM593.91,682.85V644.76H602.88V682.85ZM602.88,682.85V670.76H611.85V682.85ZM611.85,682.85V680.9H620.82V682.85Z" fill="#ff0000" fill-opacity="0.7" shape-rendering="crispEdges"/>
<rect x="427.5" y="501.7" width="237.9" height="181.15" fill="none" stroke="#000" stroke-width="1.15"/>
<text transform="translate(407.71,702.55) scale(1.186,1.000)" font-size="16.4" stroke="#000" stroke-width="0.23">−</text>
<text transform="translate(418.24,701.4) scale(1.000,1.020)" font-size="16.4">0.30</text>
<text transform="translate(467.2,702.55) scale(1.186,1.000)" font-size="16.4" stroke="#000" stroke-width="0.23">−</text>
<text transform="translate(477.73,701.4) scale(1.000,1.020)" font-size="16.4">0.25</text>
<text transform="translate(526.66,702.55) scale(1.186,1.000)" font-size="16.4" stroke="#000" stroke-width="0.23">−</text>
<text transform="translate(537.19,701.4) scale(1.000,1.020)" font-size="16.4">0.20</text>
<text transform="translate(586.15,702.55) scale(1.186,1.000)" font-size="16.4" stroke="#000" stroke-width="0.23">−</text>
<text transform="translate(596.68,701.4) scale(1.000,1.020)" font-size="16.4">0.15</text>
<text transform="translate(645.61,702.55) scale(1.186,1.000)" font-size="16.4" stroke="#000" stroke-width="0.23">−</text>
<text transform="translate(656.14,701.4) scale(1.000,1.020)" font-size="16.4">0.10</text>
<text transform="translate(541.6,530.66) scale(1.186,1.000)" font-size="19.5" stroke="#000" stroke-width="0.27">−</text>
<text transform="translate(554.12,529.3) scale(1.000,1.020)" font-size="19.5">0.172</text>
<text transform="translate(600.67,530.66) scale(1.246,1.000)" font-size="19.5" stroke="#000" stroke-width="0.27">±</text>
<text transform="translate(616.52,529.3) scale(1.000,1.020)" font-size="19.5">0.011</text>
<text transform="translate(439.25,557.37) scale(1.186,1.000)" font-size="19.5" stroke="#000" stroke-width="0.27">−</text>
<text transform="translate(451.77,556) scale(1.000,1.020)" font-size="19.5">0.201</text>
<text transform="translate(498.32,557.37) scale(1.246,1.000)" font-size="19.5" stroke="#000" stroke-width="0.27">±</text>
<text transform="translate(514.17,556) scale(1.000,1.020)" font-size="19.5">0.014</text>
<rect x="706.5" y="501.7" width="238.3" height="181.15" fill="#fff"/>
<path d="M796.2,682.85V680.9H805.04V682.85ZM805.04,682.85V672.84H814.01V682.85ZM814.01,682.85V651H823.11V682.85ZM823.11,682.85V635.14H831.96V682.85ZM831.96,682.85V582.36H840.67V682.85ZM840.67,682.85V584.44H849.12V682.85ZM849.12,682.85V616.81H858.22V682.85ZM858.22,682.85V642.81H867.06V682.85ZM867.06,682.85V678.95H875.9V682.85Z" fill="#000080" fill-opacity="0.7" shape-rendering="crispEdges"/>
<path d="M805.04,682.85V672.84H814.01V682.85ZM814.01,682.85V656.85H823.11V682.85ZM823.11,682.85V625H831.96V682.85ZM831.96,682.85V570.4H840.67V682.85ZM840.67,682.85V580.8H849.12V682.85ZM849.12,682.85V616.81H858.22V682.85ZM858.22,682.85V656.85H867.06V682.85Z" fill="#ff0000" fill-opacity="0.7" shape-rendering="crispEdges"/>
<rect x="706.5" y="501.7" width="238.3" height="181.15" fill="none" stroke="#000" stroke-width="1.15"/>
<text transform="translate(686.72,702.55) scale(1.186,1.000)" font-size="16.4" stroke="#000" stroke-width="0.23">−</text>
<text transform="translate(697.25,701.4) scale(1.000,1.020)" font-size="16.4">0.25</text>
<text transform="translate(746.29,702.55) scale(1.186,1.000)" font-size="16.4" stroke="#000" stroke-width="0.23">−</text>
<text transform="translate(756.82,701.4) scale(1.000,1.020)" font-size="16.4">0.20</text>
<text transform="translate(805.87,702.55) scale(1.186,1.000)" font-size="16.4" stroke="#000" stroke-width="0.23">−</text>
<text transform="translate(816.4,701.4) scale(1.000,1.020)" font-size="16.4">0.15</text>
<text transform="translate(865.44,702.55) scale(1.186,1.000)" font-size="16.4" stroke="#000" stroke-width="0.23">−</text>
<text transform="translate(875.97,701.4) scale(1.000,1.020)" font-size="16.4">0.10</text>
<text transform="translate(925.02,702.55) scale(1.186,1.000)" font-size="16.4" stroke="#000" stroke-width="0.23">−</text>
<text transform="translate(935.55,701.4) scale(1.000,1.020)" font-size="16.4">0.05</text>
<text transform="translate(819.85,530.66) scale(1.186,1.000)" font-size="19.5" stroke="#000" stroke-width="0.27">−</text>
<text transform="translate(832.37,529.3) scale(1.000,1.020)" font-size="19.5">0.138</text>
<text transform="translate(878.92,530.66) scale(1.246,1.000)" font-size="19.5" stroke="#000" stroke-width="0.27">±</text>
<text transform="translate(894.77,529.3) scale(1.000,1.020)" font-size="19.5">0.010</text>
<text transform="translate(718.25,557.37) scale(1.186,1.000)" font-size="19.5" stroke="#000" stroke-width="0.27">−</text>
<text transform="translate(730.77,556) scale(1.000,1.020)" font-size="19.5">0.137</text>
<text transform="translate(777.32,557.37) scale(1.246,1.000)" font-size="19.5" stroke="#000" stroke-width="0.27">±</text>
<text transform="translate(793.17,556) scale(1.000,1.020)" font-size="19.5">0.012</text>
<rect x="121.8" y="63.15" width="849.5" height="646.35" fill="none" stroke="#000" stroke-width="1.45"/>
<path d="M206.29,59.6V66.7M206.29,705.95V713.05M291.3,59.6V66.7M291.3,705.95V713.05M376.31,59.6V66.7M376.31,705.95V713.05M461.33,59.6V66.7M461.33,705.95V713.05M546.35,59.6V66.7M546.35,705.95V713.05M631.36,59.6V66.7M631.36,705.95V713.05M716.38,59.6V66.7M716.38,705.95V713.05M801.39,59.6V66.7M801.39,705.95V713.05M886.4,59.6V66.7M886.4,705.95V713.05M118.25,121.91H125.35M967.75,121.91H974.85M118.25,180.67H125.35M967.75,180.67H974.85M118.25,239.43H125.35M967.75,239.43H974.85M118.25,298.19H125.35M967.75,298.19H974.85M118.25,356.95H125.35M967.75,356.95H974.85M118.25,415.7H125.35M967.75,415.7H974.85M118.25,474.46H125.35M967.75,474.46H974.85M118.25,533.22H125.35M967.75,533.22H974.85M118.25,591.98H125.35M967.75,591.98H974.85M118.25,650.74H125.35M967.75,650.74H974.85M118.25,709.5H125.35M967.75,709.5H974.85" fill="none" stroke="#000" stroke-width="1.5"/>
<text transform="translate(69.25,131.91) scale(1.000,1.050)" font-size="26.9">0.00</text>
<text transform="translate(52,192.55) scale(1.186,1.000)" font-size="26.9" stroke="#000" stroke-width="0.38">−</text>
<text transform="translate(69.28,190.67) scale(1.000,1.050)" font-size="26.9">0.05</text>
<text transform="translate(51.98,251.31) scale(1.186,1.000)" font-size="26.9" stroke="#000" stroke-width="0.38">−</text>
<text transform="translate(69.25,249.43) scale(1.000,1.050)" font-size="26.9">0.10</text>
<text transform="translate(52,310.07) scale(1.186,1.000)" font-size="26.9" stroke="#000" stroke-width="0.38">−</text>
<text transform="translate(69.28,308.19) scale(1.000,1.050)" font-size="26.9">0.15</text>
<text transform="translate(51.98,368.83) scale(1.186,1.000)" font-size="26.9" stroke="#000" stroke-width="0.38">−</text>
<text transform="translate(69.25,366.95) scale(1.000,1.050)" font-size="26.9">0.20</text>
<text transform="translate(52,427.59) scale(1.186,1.000)" font-size="26.9" stroke="#000" stroke-width="0.38">−</text>
<text transform="translate(69.28,425.7) scale(1.000,1.050)" font-size="26.9">0.25</text>
<text transform="translate(51.98,486.35) scale(1.186,1.000)" font-size="26.9" stroke="#000" stroke-width="0.38">−</text>
<text transform="translate(69.25,484.46) scale(1.000,1.050)" font-size="26.9">0.30</text>
<text transform="translate(52,545.11) scale(1.186,1.000)" font-size="26.9" stroke="#000" stroke-width="0.38">−</text>
<text transform="translate(69.28,543.22) scale(1.000,1.050)" font-size="26.9">0.35</text>
<text transform="translate(51.98,603.86) scale(1.186,1.000)" font-size="26.9" stroke="#000" stroke-width="0.38">−</text>
<text transform="translate(69.25,601.98) scale(1.000,1.050)" font-size="26.9">0.40</text>
<text transform="translate(52,662.62) scale(1.186,1.000)" font-size="26.9" stroke="#000" stroke-width="0.38">−</text>
<text transform="translate(69.28,660.74) scale(1.000,1.050)" font-size="26.9">0.45</text>
<text transform="translate(51.98,721.38) scale(1.186,1.000)" font-size="26.9" stroke="#000" stroke-width="0.38">−</text>
<text transform="translate(69.25,719.5) scale(1.000,1.050)" font-size="26.9">0.50</text>
<text transform="translate(174.34,735.48) scale(1.186,1.000)" font-size="26.9" stroke="#000" stroke-width="0.38">−</text>
<text transform="translate(191.61,733.6) scale(1.000,1.050)" font-size="26.9">11.5</text>
<text transform="translate(259.34,735.48) scale(1.186,1.000)" font-size="26.9" stroke="#000" stroke-width="0.38">−</text>
<text transform="translate(276.62,733.6) scale(1.000,1.050)" font-size="26.9">11.0</text>
<text transform="translate(343.87,735.48) scale(1.186,1.000)" font-size="26.9" stroke="#000" stroke-width="0.38">−</text>
<text transform="translate(361.14,733.6) scale(1.000,1.050)" font-size="26.9">10.5</text>
<text transform="translate(428.87,735.48) scale(1.186,1.000)" font-size="26.9" stroke="#000" stroke-width="0.38">−</text>
<text transform="translate(446.15,733.6) scale(1.000,1.050)" font-size="26.9">10.0</text>
<text transform="translate(520.63,735.48) scale(1.186,1.000)" font-size="26.9" stroke="#000" stroke-width="0.38">−</text>
<text transform="translate(537.9,733.6) scale(1.000,1.050)" font-size="26.9">9.5</text>
<text transform="translate(605.63,735.48) scale(1.186,1.000)" font-size="26.9" stroke="#000" stroke-width="0.38">−</text>
<text transform="translate(622.9,733.6) scale(1.000,1.050)" font-size="26.9">9.0</text>
<text transform="translate(690.66,735.48) scale(1.186,1.000)" font-size="26.9" stroke="#000" stroke-width="0.38">−</text>
<text transform="translate(707.93,733.6) scale(1.000,1.050)" font-size="26.9">8.5</text>
<text transform="translate(775.66,735.48) scale(1.186,1.000)" font-size="26.9" stroke="#000" stroke-width="0.38">−</text>
<text transform="translate(792.93,733.6) scale(1.000,1.050)" font-size="26.9">8.0</text>
<text transform="translate(860.69,735.48) scale(1.186,1.000)" font-size="26.9" stroke="#000" stroke-width="0.38">−</text>
<text transform="translate(877.96,733.6) scale(1.000,1.050)" font-size="26.9">7.5</text>
</g>
<g>
<path d="M206.29,782.4V1249.15M291.3,782.4V1249.15M376.31,782.4V1249.15M461.33,782.4V1249.15M546.35,782.4V1249.15M631.36,782.4V1249.15M716.38,782.4V1249.15M801.39,782.4V1249.15M886.4,782.4V1249.15M121.8,782.4H971.3M121.8,860.19H971.3M121.8,937.98H971.3M121.8,1015.78H971.3M121.8,1093.57H971.3M121.8,1171.36H971.3M121.8,1249.15H971.3" fill="none" stroke="#00bbbb" stroke-opacity="0.34" stroke-width="0.85" stroke-dasharray="1.5 1.0"/>
<path d="M417.1,985.7h0M414.8,965.4h0M413.7,856.9h0M418.0,888.6h0M413.5,950.3h0M417.3,997.2h0M416.4,984.0h0M413.1,944.2h0M410.2,975.3h0M415.4,969.0h0M414.6,1018.5h0M417.0,1035.6h0M409.3,1021.4h0M413.6,949.5h0M414.6,1011.8h0M415.0,825.7h0M414.3,931.8h0M414.9,926.4h0M406.9,907.7h0M413.0,1017.2h0M411.9,1024.0h0M409.3,973.0h0M414.3,928.6h0M412.7,930.5h0M410.4,871.4h0M409.7,884.4h0M414.9,902.6h0M406.3,897.6h0M413.6,943.6h0M410.5,911.5h0M414.3,971.9h0M419.7,979.1h0M417.0,905.8h0M413.7,1044.4h0M418.5,880.6h0M419.6,855.7h0M416.9,980.8h0M419.5,914.1h0M414.6,944.9h0M415.9,1006.1h0M413.7,933.7h0M412.8,924.8h0M414.0,898.8h0M411.6,970.5h0M413.7,945.2h0M420.7,985.2h0M416.1,898.7h0M413.4,957.8h0M419.2,906.3h0M418.4,988.5h0M410.7,946.0h0M411.9,1000.5h0M419.2,992.1h0M414.3,893.0h0M414.5,962.2h0M412.4,957.0h0M410.6,913.3h0M417.5,995.7h0M411.5,848.7h0M415.6,993.8h0M419.6,973.4h0M415.6,836.1h0M413.3,1044.2h0M415.9,858.2h0M415.7,931.7h0M412.6,925.0h0M414.8,1008.7h0M410.3,943.4h0M408.7,1020.3h0M412.3,899.4h0M408.6,966.1h0M412.0,987.8h0M413.6,979.1h0M414.5,961.6h0M419.6,901.3h0M411.1,933.9h0M412.5,994.4h0M412.5,1000.3h0M410.9,1008.8h0M420.1,911.5h0M411.6,928.4h0M413.2,1013.4h0M413.4,1040.9h0M421.3,957.5h0M413.0,985.3h0M411.6,926.6h0M417.7,961.2h0M411.9,935.0h0M407.5,911.9h0M417.3,899.4h0M416.7,966.6h0M409.5,917.1h0M410.1,985.7h0M413.8,1019.6h0M410.9,943.5h0M409.2,891.6h0M410.2,880.1h0M419.3,959.1h0M417.1,1047.4h0M410.6,938.7h0M413.4,967.3h0M414.1,922.9h0M412.8,899.0h0M413.7,979.4h0M419.2,994.1h0M411.8,977.1h0M411.4,992.7h0M413.6,1009.4h0M411.7,945.2h0M412.4,995.7h0M412.4,971.8h0M410.7,974.5h0M417.5,989.4h0M411.7,925.0h0M417.8,981.7h0M411.1,961.7h0M410.9,915.1h0M414.5,965.1h0M412.9,1034.6h0M416.3,982.6h0M415.8,982.7h0M420.9,924.3h0M404.7,869.9h0M410.5,947.3h0M413.6,964.9h0M413.1,880.6h0M413.6,994.7h0M421.7,942.1h0M406.8,932.8h0M415.8,960.7h0M413.0,967.9h0M413.7,948.7h0M417.1,878.0h0M413.5,927.9h0M416.2,989.4h0M417.7,942.9h0M417.4,907.3h0M408.0,864.2h0M411.7,915.6h0M409.7,947.9h0M411.3,885.2h0M413.1,911.4h0M420.1,950.4h0M411.7,993.1h0M412.8,953.6h0M413.2,908.1h0M418.3,1014.5h0M412.0,1042.3h0M415.1,931.2h0M416.2,1039.0h0M415.4,1026.8h0M407.4,969.3h0M409.6,971.1h0M415.7,955.7h0M408.1,950.0h0M412.9,931.0h0M408.9,964.3h0M414.8,1002.5h0M413.4,1107.9h0M408.8,893.9h0M412.8,918.0h0M410.3,926.6h0M411.8,960.8h0M417.4,1006.1h0M414.4,934.6h0M414.6,963.6h0M418.3,1031.5h0M413.9,906.0h0M417.6,1034.9h0M414.8,982.9h0M414.4,867.6h0M412.4,1002.9h0M411.0,950.9h0M410.3,904.8h0M410.7,960.2h0M415.1,1034.7h0M414.8,986.6h0M411.0,963.4h0M417.3,1039.8h0M411.6,885.6h0M412.3,944.2h0M409.3,923.7h0M411.0,947.1h0M416.2,941.3h0M414.9,980.2h0M411.6,1038.9h0M417.3,926.1h0M413.4,959.7h0M413.8,879.0h0M416.8,1022.8h0M415.0,953.1h0M412.5,847.1h0M410.3,1032.3h0M417.5,1024.4h0M406.3,950.0h0M411.7,872.6h0M408.2,1024.6h0M411.8,958.9h0M416.2,971.8h0M412.5,991.6h0" stroke="#ff0000" stroke-opacity="0.82" stroke-width="2.0" stroke-linecap="round" fill="none"/>
<path d="M628.7,1014.8h0M631.6,1016.2h0M629.5,1018.5h0M626.6,1051.6h0M627.9,1046.7h0M629.4,1010.5h0M626.4,983.5h0M627.8,1120.4h0M628.4,1008.0h0M625.0,1036.6h0M632.9,1044.6h0M625.9,1064.3h0M629.3,1061.3h0M628.8,1077.8h0M627.9,1035.5h0M631.6,1071.3h0M629.3,1048.7h0M627.5,1086.7h0M631.5,1009.1h0M630.3,1024.0h0M627.1,1077.2h0M626.1,1030.4h0M630.9,1055.0h0M628.9,1068.8h0M626.2,1041.7h0M630.2,1019.5h0M626.3,1000.3h0M627.8,1036.1h0M627.5,1010.1h0M625.2,1024.2h0M630.5,1024.3h0M636.2,1015.6h0M630.4,1083.1h0M630.0,1055.4h0M628.6,1000.8h0M629.0,1082.6h0M629.7,1068.3h0M630.4,989.6h0M628.2,1073.6h0M629.3,1040.6h0M628.8,1036.5h0M630.3,1052.8h0M631.1,1017.5h0M631.4,1019.5h0M628.3,1064.7h0M628.3,994.1h0M630.6,1068.3h0M628.7,1057.7h0M628.8,1049.0h0M630.2,1039.2h0M630.0,1077.1h0M631.9,1038.3h0M626.8,1109.0h0M631.5,1060.0h0M628.4,1071.9h0M630.7,1066.5h0M626.7,1048.8h0M629.0,1039.6h0M628.1,1068.2h0M632.9,1046.1h0M627.4,1090.3h0M631.6,1058.0h0M627.7,1020.4h0M627.1,1067.1h0M629.9,1056.3h0M631.5,1048.1h0M629.2,1024.3h0M630.5,1036.9h0M629.8,1052.4h0M629.2,1076.4h0M632.1,1040.8h0M629.4,1130.4h0M631.1,1035.7h0M627.0,1069.3h0M629.0,1029.4h0M631.3,1049.7h0M628.4,1009.3h0M625.1,1066.3h0M630.9,1104.7h0M630.5,1047.3h0M628.8,1062.1h0M629.6,1050.9h0M628.7,1014.1h0M630.2,1074.0h0M631.6,1028.9h0M630.0,1022.8h0M629.2,1017.5h0M628.4,1105.3h0M629.1,1043.9h0M628.4,1067.9h0M631.3,1054.8h0M627.3,1071.5h0M628.2,1057.5h0M630.1,1021.3h0M630.1,999.1h0M629.9,1028.2h0M628.6,1083.3h0M629.8,1012.4h0M626.6,1083.4h0M626.4,1058.9h0M626.9,1015.8h0M630.2,1064.9h0M632.2,1027.6h0M628.6,1055.7h0M628.3,1081.1h0M628.9,1042.0h0M633.1,1063.4h0M629.9,997.7h0M629.7,995.5h0M628.3,1003.2h0M630.5,1077.1h0M632.1,993.7h0M629.9,1039.0h0M627.9,1033.4h0M632.1,1042.3h0M629.4,1063.5h0M633.0,1044.1h0M627.4,1022.6h0M629.2,1003.4h0M630.0,1031.5h0M626.0,1047.3h0M629.7,1061.4h0M630.7,1056.8h0M629.2,1001.2h0M630.4,1028.0h0M629.8,1041.1h0M627.8,1094.9h0M630.9,1098.4h0M628.0,1028.4h0M628.9,1029.7h0M628.0,1015.7h0M630.7,1042.0h0M628.5,1066.5h0M628.5,1096.9h0M625.2,1074.1h0M628.9,1114.3h0M631.4,1039.3h0M625.3,1034.2h0M630.2,1008.3h0M629.4,1100.3h0M626.0,1088.5h0M628.6,1030.2h0M631.3,1038.4h0M629.4,1105.6h0M630.1,1068.4h0M631.6,1045.2h0M628.8,1059.2h0M631.2,1037.3h0M627.0,1047.1h0M627.7,1064.2h0M632.3,1037.1h0M632.1,1050.4h0M631.3,1014.7h0M626.5,1089.9h0M629.0,1054.9h0M627.7,1067.8h0M633.3,1055.3h0M626.8,1036.5h0M626.9,1029.6h0M628.3,1110.0h0M630.1,1014.8h0M628.3,1032.7h0M628.9,1033.1h0M630.1,1046.2h0M629.5,1020.8h0M625.7,1036.3h0M627.0,1100.1h0M632.7,1067.5h0M629.6,1055.6h0M633.1,1058.8h0M632.4,1061.2h0M631.7,1030.6h0M629.6,1080.6h0M632.6,1070.0h0M628.6,1077.0h0M634.0,1049.1h0M630.7,1035.6h0M630.7,1074.5h0M628.8,1037.0h0M628.4,1064.1h0M629.1,1007.5h0M628.5,1113.2h0M627.9,1048.8h0M627.4,1015.1h0M630.0,1059.0h0M632.0,1080.4h0M633.5,1073.5h0M631.1,1032.2h0M629.4,1064.1h0M630.8,1017.5h0M633.0,1046.7h0M629.9,1064.2h0M631.6,1060.8h0M630.4,1034.3h0M629.9,1018.5h0M628.5,1071.4h0M631.1,1082.3h0M628.0,1081.9h0M627.7,1034.1h0M630.3,994.9h0" stroke="#ff0000" stroke-opacity="0.82" stroke-width="2.0" stroke-linecap="round" fill="none"/>
<path d="M800.5,1130.1h0M802.3,1068.6h0M800.7,1130.0h0M802.6,1103.0h0M799.0,1063.7h0M802.1,1103.7h0M799.3,1089.5h0M800.0,1095.6h0M801.8,1079.8h0M800.9,1042.9h0M801.2,1124.7h0M802.0,1097.6h0M801.6,1056.1h0M803.5,1038.7h0M802.4,1101.5h0M800.0,1062.6h0M801.2,1079.9h0M800.4,1080.9h0M800.7,1130.6h0M803.9,1135.7h0M800.1,1092.8h0M803.2,1099.2h0M803.5,1098.6h0M805.4,1124.8h0M801.3,1061.1h0M801.7,1100.6h0M801.7,1030.3h0M800.7,1101.8h0M803.9,1087.1h0M804.2,1077.8h0M797.8,1104.5h0M800.8,1120.4h0M803.1,1109.8h0M799.7,1095.7h0M800.2,1108.2h0M801.3,1047.7h0M801.3,1108.6h0M801.0,1077.2h0M801.1,1076.2h0M804.0,1091.3h0M797.8,1121.9h0M800.5,1083.4h0M799.5,1072.9h0M801.6,1091.6h0M800.6,1095.2h0M802.0,1148.3h0M801.3,1122.3h0M804.7,1100.3h0M799.3,1091.2h0M800.5,1077.6h0M802.6,1103.1h0M800.7,1091.5h0M801.5,1120.7h0M798.9,1080.5h0M802.3,1078.2h0M801.1,1098.5h0M802.1,1072.3h0M799.9,1103.0h0M800.4,1107.6h0M799.9,1102.8h0M803.8,1047.5h0M798.6,1134.9h0M801.9,1091.0h0M801.6,1104.2h0M803.2,1093.1h0M801.7,1131.4h0M799.7,1077.9h0M802.0,1079.7h0M798.6,1102.1h0M802.8,1106.0h0M801.1,1094.1h0M800.1,1072.5h0M800.5,1132.6h0M802.1,1061.6h0M798.7,1103.1h0M803.8,1075.2h0M800.2,1115.5h0M803.5,1047.9h0M801.5,1088.8h0M804.1,1052.3h0M799.4,1109.9h0M802.6,1110.6h0M801.1,1067.6h0M800.3,1077.8h0M802.5,1086.5h0M800.9,1064.8h0M800.1,1084.4h0M800.9,1102.9h0M800.0,1140.5h0M800.9,1150.0h0M801.2,1079.0h0M802.9,1080.9h0M801.1,1116.4h0M800.0,1081.5h0M802.4,1099.5h0M800.7,1093.6h0M799.7,1071.1h0M799.4,1132.6h0M803.9,1085.9h0M801.0,1081.8h0M803.7,1099.0h0M799.7,1090.4h0M799.6,1122.0h0M803.8,1090.7h0M800.8,1079.1h0M800.9,1075.5h0M800.9,1111.1h0M799.6,1074.9h0M802.8,1087.0h0M799.4,1078.2h0M802.4,1095.3h0M799.6,1079.1h0M805.2,1089.6h0M802.3,1035.6h0M802.9,1101.7h0M798.6,1067.0h0M801.7,1095.0h0M800.2,1130.6h0M799.9,1083.1h0M799.9,1065.0h0M802.5,1076.3h0M801.3,1075.6h0M800.4,1114.2h0M800.3,1087.2h0M800.2,1128.0h0M800.4,1051.6h0M800.8,1057.1h0M799.5,1119.7h0M799.8,1104.0h0M797.8,1124.4h0M801.1,1112.7h0M802.1,1105.3h0M800.4,1123.0h0M803.3,1105.8h0M800.0,1079.2h0M801.3,1101.6h0M803.0,1077.3h0M801.6,1098.8h0M800.0,1092.2h0M801.8,1125.3h0M800.6,1072.2h0M802.9,1122.3h0M802.4,1103.5h0M800.9,1125.9h0M802.0,1082.6h0M803.9,1120.2h0M802.9,1080.9h0M802.5,1048.0h0M800.9,1086.4h0M800.3,1149.3h0M800.1,1070.7h0M802.8,1090.4h0M799.6,1079.8h0M801.8,1084.6h0M803.6,1066.4h0M798.8,1069.9h0M801.8,1095.9h0M799.7,1124.6h0M801.0,1096.5h0M802.0,1075.8h0M799.7,1139.6h0M799.2,1090.7h0M800.6,1138.1h0M801.5,1067.2h0M800.6,1049.3h0M799.8,1072.9h0M802.3,1104.5h0M799.5,1075.0h0M799.0,1061.8h0M801.4,1053.5h0M804.5,1059.6h0M800.5,1067.5h0M801.1,1118.0h0M799.7,1096.5h0M800.3,1082.6h0M799.5,1092.9h0M801.6,1141.5h0M800.2,1098.2h0M800.0,1111.3h0M802.6,1089.0h0M799.0,1085.8h0M802.6,1129.0h0M800.9,1112.6h0M799.8,1090.3h0M801.2,1119.6h0M800.8,1095.1h0M801.7,1114.7h0M800.9,1111.5h0M804.1,1073.0h0M802.8,1097.6h0M802.9,1107.9h0M799.4,1057.3h0M800.7,1102.2h0M803.0,1095.3h0M802.1,1094.1h0M801.3,1021.1h0M801.1,1079.2h0M802.8,1073.6h0M798.3,1103.4h0M799.9,1074.0h0" stroke="#ff0000" stroke-opacity="0.82" stroke-width="2.0" stroke-linecap="round" fill="none"/>
<line x1="121.8" y1="1093.57" x2="971.3" y2="1093.57" stroke="#000" stroke-width="2.5" stroke-dasharray="8.93 3.87"/>
<path d="M413.9,903.75V1009.55M406.8,903.75h14.2M406.8,1009.55h14.2M629.4,1017.64V1075.83M622.3,1017.64h14.2M622.3,1075.83h14.2M801.3,1071.63V1119.55M794.2,1071.63h14.2M794.2,1119.55h14.2" fill="none" stroke="#000" stroke-width="2.4"/>
<circle cx="413.9" cy="956.65" r="4.5" fill="#000"/>
<circle cx="629.4" cy="1046.74" r="4.5" fill="#000"/>
<circle cx="801.3" cy="1095.59" r="4.5" fill="#000"/>
<polyline points="119.6,944.4 122.9,944.4 126.2,944.4 129.5,944.4 132.8,944.4 136.0,944.4 139.3,944.4 142.6,944.4 145.9,944.4 149.2,944.4 152.5,944.4 155.8,944.4 159.1,944.4 162.4,944.4 165.7,944.4 169.0,944.4 172.3,944.4 175.6,944.4 178.9,944.4 182.2,944.4 185.5,944.4 188.8,944.4 192.1,944.4 195.4,944.4 198.7,944.4 202.0,944.4 205.3,944.4 208.5,944.4 211.8,944.4 215.1,944.4 218.4,944.4 221.7,944.4 225.0,944.5 228.3,944.5 231.6,944.5 234.9,944.5 238.2,944.5 241.5,944.5 244.8,944.5 248.1,944.5 251.4,944.5 254.7,944.5 258.0,944.5 261.3,944.5 264.6,944.5 267.9,944.5 271.2,944.5 274.5,944.5 277.8,944.5 281.1,944.6 284.3,944.6 287.6,944.6 290.9,944.6 294.2,944.6 297.5,944.6 300.8,944.6 304.1,944.7 307.4,944.7 310.7,944.7 314.0,944.7 317.3,944.8 320.6,944.8 323.9,944.8 327.2,944.9 330.5,944.9 333.8,944.9 337.1,945.0 340.4,945.0 343.7,945.1 347.0,945.1 350.3,945.2 353.6,945.2 356.9,945.3 360.1,945.4 363.4,945.5 366.7,945.5 370.0,945.6 373.3,945.7 376.6,945.8 379.9,946.0 383.2,946.1 386.5,946.2 389.8,946.4 393.1,946.5 396.4,946.7 399.7,946.9 403.0,947.1 406.3,947.3 409.6,947.5 412.9,947.8 416.2,948.0 419.5,948.3 422.8,948.6 426.1,948.9 429.4,949.3 432.6,949.7 435.9,950.1 439.2,950.5 442.5,951.0 445.8,951.5 449.1,952.0 452.4,952.6 455.7,953.2 459.0,953.8 462.3,954.5 465.6,955.2 468.9,956.0 472.2,956.8 475.5,957.7 478.8,958.6 482.1,959.6 485.4,960.6 488.7,961.7 492.0,962.9 495.3,964.1 498.6,965.4 501.9,966.7 505.2,968.1 508.4,969.5 511.7,971.0 515.0,972.6 518.3,974.2 521.6,975.9 524.9,977.6 528.2,979.4 531.5,981.3 534.8,983.2 538.1,985.1 541.4,987.1 544.7,989.1 548.0,991.2 551.3,993.3 554.6,995.4 557.9,997.5 561.2,999.7 564.5,1001.9 567.8,1004.1 571.1,1006.3 574.4,1008.5 577.7,1010.7 580.9,1012.9 584.2,1015.0 587.5,1017.2 590.8,1019.4 594.1,1021.5 597.4,1023.7 600.7,1025.8 604.0,1027.8 607.3,1029.9 610.6,1031.9 613.9,1033.9 617.2,1035.8 620.5,1037.7 623.8,1039.6 627.1,1041.4 630.4,1043.2 633.7,1044.9 637.0,1046.6 640.3,1048.3 643.6,1049.9 646.9,1051.5 650.2,1053.0 653.5,1054.5 656.7,1055.9 660.0,1057.3 663.3,1058.7 666.6,1060.0 669.9,1061.3 673.2,1062.5 676.5,1063.7 679.8,1064.9 683.1,1066.0 686.4,1067.1 689.7,1068.1 693.0,1069.1 696.3,1070.1 699.6,1071.0 702.9,1071.9 706.2,1072.8 709.5,1073.6 712.8,1074.4 716.1,1075.2 719.4,1076.0 722.7,1076.7 726.0,1077.4 729.2,1078.1 732.5,1078.7 735.8,1079.3 739.1,1079.9 742.4,1080.5 745.7,1081.0 749.0,1081.5 752.3,1082.0 755.6,1082.5 758.9,1083.0 762.2,1083.4 765.5,1083.9 768.8,1084.3 772.1,1084.7 775.4,1085.0 778.7,1085.4 782.0,1085.7 785.3,1086.1 788.6,1086.4 791.9,1086.7 795.2,1087.0 798.5,1087.3 801.8,1087.5 805.0,1087.8 808.3,1088.0 811.6,1088.3 814.9,1088.5 818.2,1088.7 821.5,1088.9 824.8,1089.1 828.1,1089.3 831.4,1089.5 834.7,1089.7 838.0,1089.8 841.3,1090.0 844.6,1090.2 847.9,1090.3 851.2,1090.4 854.5,1090.6 857.8,1090.7 861.1,1090.8 864.4,1091.0 867.7,1091.1 871.0,1091.2 874.3,1091.3 877.5,1091.4 880.8,1091.5 884.1,1091.6 887.4,1091.7 890.7,1091.7 894.0,1091.8 897.3,1091.9 900.6,1092.0 903.9,1092.0 907.2,1092.1 910.5,1092.2 913.8,1092.2 917.1,1092.3 920.4,1092.3 923.7,1092.4 927.0,1092.4 930.3,1092.5 933.6,1092.5 936.9,1092.6 940.2,1092.6 943.5,1092.7 946.8,1092.7 950.1,1092.7 953.3,1092.8 956.6,1092.8 959.9,1092.8 963.2,1092.9 966.5,1092.9 969.8,1092.9 973.1,1093.0" fill="none" stroke="#bf00bf" stroke-width="2.4" clip-path="url(#cb0)"/>
<polyline points="413.9,956.65 629.4,1046.74 801.3,1095.59" fill="none" stroke="#000" stroke-width="2.4"/>
<text transform="translate(333.45,1146.5) scale(1.000,1.020)" font-size="29.4">0.088</text>
<text transform="translate(403.64,1148.56) scale(1.246,1.000)" font-size="29.4" stroke="#000" stroke-width="0.41">±</text>
<text transform="translate(427.53,1146.5) scale(1.000,1.020)" font-size="29.4">0.034</text>
<text transform="translate(549.33,1177.3) scale(1.000,1.020)" font-size="29.4">0.030</text>
<text transform="translate(619.51,1179.36) scale(1.246,1.000)" font-size="29.4" stroke="#000" stroke-width="0.41">±</text>
<text transform="translate(643.41,1177.3) scale(1.000,1.020)" font-size="29.4">0.019</text>
<text transform="translate(711.45,1209.96) scale(1.186,1.000)" font-size="29.4" stroke="#000" stroke-width="0.41">−</text>
<text transform="translate(730.33,1207.9) scale(1.000,1.020)" font-size="29.4">0.001</text>
<text transform="translate(800.52,1209.96) scale(1.246,1.000)" font-size="29.4" stroke="#000" stroke-width="0.41">±</text>
<text transform="translate(824.41,1207.9) scale(1.000,1.020)" font-size="29.4">0.015</text>
<rect x="121.8" y="782.4" width="849.5" height="466.75" fill="none" stroke="#000" stroke-width="1.45"/>
<path d="M206.29,778.85V785.95M206.29,1245.6V1252.7M291.3,778.85V785.95M291.3,1245.6V1252.7M376.31,778.85V785.95M376.31,1245.6V1252.7M461.33,778.85V785.95M461.33,1245.6V1252.7M546.35,778.85V785.95M546.35,1245.6V1252.7M631.36,778.85V785.95M631.36,1245.6V1252.7M716.38,778.85V785.95M716.38,1245.6V1252.7M801.39,778.85V785.95M801.39,1245.6V1252.7M886.4,778.85V785.95M886.4,1245.6V1252.7M118.25,782.4H125.35M967.75,782.4H974.85M118.25,860.19H125.35M967.75,860.19H974.85M118.25,937.98H125.35M967.75,937.98H974.85M118.25,1015.78H125.35M967.75,1015.78H974.85M118.25,1093.57H125.35M967.75,1093.57H974.85M118.25,1171.36H125.35M967.75,1171.36H974.85M118.25,1249.15H125.35M967.75,1249.15H974.85" fill="none" stroke="#000" stroke-width="1.5"/>
<text transform="translate(69.25,792.4) scale(1.000,1.050)" font-size="26.9">0.20</text>
<text transform="translate(69.28,870.19) scale(1.000,1.050)" font-size="26.9">0.15</text>
<text transform="translate(69.25,947.98) scale(1.000,1.050)" font-size="26.9">0.10</text>
<text transform="translate(69.28,1025.78) scale(1.000,1.050)" font-size="26.9">0.05</text>
<text transform="translate(69.25,1103.57) scale(1.000,1.050)" font-size="26.9">0.00</text>
<text transform="translate(52,1183.24) scale(1.186,1.000)" font-size="26.9" stroke="#000" stroke-width="0.38">−</text>
<text transform="translate(69.28,1181.36) scale(1.000,1.050)" font-size="26.9">0.05</text>
<text transform="translate(51.98,1261.03) scale(1.186,1.000)" font-size="26.9" stroke="#000" stroke-width="0.38">−</text>
<text transform="translate(69.25,1259.15) scale(1.000,1.050)" font-size="26.9">0.10</text>
<text transform="translate(174.34,1275.13) scale(1.186,1.000)" font-size="26.9" stroke="#000" stroke-width="0.38">−</text>
<text transform="translate(191.61,1273.25) scale(1.000,1.050)" font-size="26.9">11.5</text>
<text transform="translate(259.34,1275.13) scale(1.186,1.000)" font-size="26.9" stroke="#000" stroke-width="0.38">−</text>
<text transform="translate(276.62,1273.25) scale(1.000,1.050)" font-size="26.9">11.0</text>
<text transform="translate(343.87,1275.13) scale(1.186,1.000)" font-size="26.9" stroke="#000" stroke-width="0.38">−</text>
<text transform="translate(361.14,1273.25) scale(1.000,1.050)" font-size="26.9">10.5</text>
<text transform="translate(428.87,1275.13) scale(1.186,1.000)" font-size="26.9" stroke="#000" stroke-width="0.38">−</text>
<text transform="translate(446.15,1273.25) scale(1.000,1.050)" font-size="26.9">10.0</text>
<text transform="translate(520.63,1275.13) scale(1.186,1.000)" font-size="26.9" stroke="#000" stroke-width="0.38">−</text>
<text transform="translate(537.9,1273.25) scale(1.000,1.050)" font-size="26.9">9.5</text>
<text transform="translate(605.63,1275.13) scale(1.186,1.000)" font-size="26.9" stroke="#000" stroke-width="0.38">−</text>
<text transform="translate(622.9,1273.25) scale(1.000,1.050)" font-size="26.9">9.0</text>
<text transform="translate(690.66,1275.13) scale(1.186,1.000)" font-size="26.9" stroke="#000" stroke-width="0.38">−</text>
<text transform="translate(707.93,1273.25) scale(1.000,1.050)" font-size="26.9">8.5</text>
<text transform="translate(775.66,1275.13) scale(1.186,1.000)" font-size="26.9" stroke="#000" stroke-width="0.38">−</text>
<text transform="translate(792.93,1273.25) scale(1.000,1.050)" font-size="26.9">8.0</text>
<text transform="translate(860.69,1275.13) scale(1.186,1.000)" font-size="26.9" stroke="#000" stroke-width="0.38">−</text>
<text transform="translate(877.96,1273.25) scale(1.000,1.050)" font-size="26.9">7.5</text>
</g>
<g>
<path d="M1227.93,63.15V709.5M1312.95,63.15V709.5M1397.96,63.15V709.5M1482.98,63.15V709.5M1567.99,63.15V709.5M1653.01,63.15V709.5M1738.03,63.15V709.5M1823.04,63.15V709.5M1908.05,63.15V709.5M1143.3,121.91H1992.8M1143.3,180.67H1992.8M1143.3,239.43H1992.8M1143.3,298.19H1992.8M1143.3,356.95H1992.8M1143.3,415.7H1992.8M1143.3,474.46H1992.8M1143.3,533.22H1992.8M1143.3,591.98H1992.8M1143.3,650.74H1992.8M1143.3,709.5H1992.8" fill="none" stroke="#00bbbb" stroke-opacity="0.34" stroke-width="0.85" stroke-dasharray="1.5 1.0"/>
<path d="M1442.7,358.0h0M1433.9,311.5h0M1440.1,372.7h0M1444.7,338.5h0M1445.4,340.6h0M1439.3,441.5h0M1447.3,383.4h0M1435.8,324.2h0M1442.4,405.8h0M1440.5,315.5h0M1434.4,347.3h0M1442.3,395.6h0M1433.5,294.7h0M1435.9,351.5h0M1438.1,302.9h0M1433.8,342.0h0M1443.0,369.4h0M1436.7,316.0h0M1433.7,296.9h0M1439.5,311.6h0M1648.0,328.0h0M1651.4,382.6h0M1652.8,339.6h0M1653.3,322.9h0M1654.1,380.0h0M1653.9,291.9h0M1647.5,322.5h0M1651.9,308.1h0M1646.5,334.1h0M1654.2,311.3h0M1652.7,304.4h0M1654.2,280.3h0M1651.7,347.6h0M1651.5,289.1h0M1650.1,348.1h0M1644.0,324.9h0M1651.0,335.1h0M1658.6,330.9h0M1655.1,363.8h0M1651.0,333.0h0M1828.2,286.5h0M1822.7,251.6h0M1823.4,278.3h0M1824.3,271.4h0M1823.9,283.7h0M1828.6,293.4h0M1826.0,307.7h0M1823.0,306.0h0M1824.7,315.9h0M1829.0,307.6h0M1824.6,304.6h0M1826.5,281.5h0M1821.6,315.9h0M1824.1,286.0h0M1824.9,320.3h0M1824.7,254.6h0M1825.2,300.4h0M1826.0,289.9h0M1827.6,266.8h0M1821.6,294.9h0" stroke="#ff0000" stroke-opacity="0.68" stroke-width="1.7" stroke-linecap="round" fill="none"/>
<path d="M1434.6,476.4h0M1438.0,426.7h0M1431.4,414.8h0M1430.4,441.7h0M1439.9,460.2h0M1435.8,446.6h0M1435.8,444.4h0M1427.4,520.6h0M1432.3,400.7h0M1432.2,454.4h0M1431.3,386.3h0M1435.2,453.7h0M1430.4,484.4h0M1429.4,427.0h0M1441.4,453.0h0M1435.8,424.8h0M1430.0,471.3h0M1442.1,472.0h0M1436.2,480.0h0M1435.4,480.2h0M1655.7,374.2h0M1650.8,356.7h0M1654.8,360.6h0M1648.0,319.7h0M1649.8,331.7h0M1655.5,376.8h0M1648.9,372.2h0M1652.7,338.5h0M1651.2,357.8h0M1657.0,360.5h0M1653.3,337.6h0M1655.8,350.5h0M1652.2,359.2h0M1647.7,297.6h0M1657.8,353.6h0M1650.7,391.0h0M1652.4,355.2h0M1652.2,356.6h0M1648.0,326.1h0M1654.2,355.2h0M1825.3,297.3h0M1824.9,293.0h0M1822.9,285.0h0M1825.9,320.3h0M1825.8,286.2h0M1827.4,285.3h0M1829.1,274.0h0M1829.6,273.4h0M1827.1,280.9h0M1826.5,256.8h0M1824.3,292.0h0M1821.9,294.1h0M1826.0,263.4h0M1823.8,290.0h0M1824.5,302.3h0M1824.1,301.7h0M1826.0,292.3h0M1824.2,315.9h0M1830.2,274.6h0M1826.9,286.7h0" stroke="#000080" stroke-opacity="0.68" stroke-width="1.7" stroke-linecap="round" fill="none"/>
<path d="M1438.4,381.9h0M1434.3,330.3h0M1436.4,381.6h0M1441.9,365.1h0M1441.6,309.6h0M1432.4,388.9h0M1442.2,276.9h0M1442.2,392.3h0M1442.9,385.4h0M1436.7,326.7h0M1435.5,354.1h0M1438.1,352.4h0M1436.0,374.9h0M1437.5,327.3h0M1436.2,341.9h0M1437.4,350.7h0M1436.6,371.6h0M1438.6,391.3h0M1439.1,348.7h0M1437.5,410.9h0M1652.5,350.0h0M1652.8,331.3h0M1650.0,322.6h0M1651.6,326.3h0M1652.5,329.3h0M1650.2,301.3h0M1652.8,321.1h0M1654.9,316.0h0M1653.9,302.1h0M1652.3,328.4h0M1651.1,325.2h0M1653.6,314.6h0M1650.2,332.2h0M1649.9,303.7h0M1655.1,339.0h0M1650.6,331.1h0M1647.9,329.8h0M1653.9,333.1h0M1653.6,327.5h0M1654.7,336.2h0M1825.3,290.6h0M1826.7,290.0h0M1825.7,284.0h0M1827.6,299.3h0M1825.0,266.8h0M1824.3,275.6h0M1823.5,290.0h0M1827.1,274.4h0M1822.5,293.5h0M1824.3,299.6h0M1825.1,293.5h0M1826.5,285.3h0M1824.6,314.3h0M1823.2,296.7h0M1826.4,285.6h0M1822.8,308.0h0M1823.7,287.3h0M1821.0,308.1h0M1825.5,289.3h0M1825.5,293.2h0" stroke="#ff0000" stroke-opacity="0.68" stroke-width="1.7" stroke-linecap="round" fill="none"/>
<path d="M1423.7,441.3h0M1439.8,500.7h0M1434.8,449.9h0M1438.9,418.0h0M1440.8,490.1h0M1429.3,464.4h0M1441.4,483.9h0M1437.5,470.2h0M1434.7,451.7h0M1425.6,432.5h0M1441.9,425.8h0M1435.6,480.3h0M1436.7,433.3h0M1429.8,478.8h0M1436.7,497.6h0M1436.6,491.1h0M1440.1,525.6h0M1430.8,456.0h0M1426.1,522.1h0M1432.0,450.7h0M1651.2,375.7h0M1647.5,354.3h0M1648.2,388.5h0M1646.1,370.1h0M1650.1,354.7h0M1651.7,380.7h0M1649.6,405.6h0M1652.1,384.8h0M1651.2,380.0h0M1653.5,350.6h0M1652.1,373.0h0M1651.7,364.5h0M1649.9,383.2h0M1648.9,361.7h0M1649.6,376.6h0M1653.1,351.3h0M1650.8,358.3h0M1656.1,332.6h0M1654.3,351.0h0M1648.4,370.5h0M1824.0,269.6h0M1825.9,310.1h0M1828.1,298.2h0M1822.6,303.4h0M1825.6,282.8h0M1824.0,285.3h0M1825.2,278.9h0M1824.1,279.7h0M1825.5,311.1h0M1826.1,287.2h0M1826.5,290.6h0M1822.0,292.5h0M1826.6,283.2h0M1825.2,325.4h0M1823.8,304.3h0M1825.0,297.1h0M1828.6,307.1h0M1824.8,312.8h0M1823.3,276.2h0M1826.7,277.2h0" stroke="#000080" stroke-opacity="0.68" stroke-width="1.7" stroke-linecap="round" fill="none"/>
<path d="M1436.4,367.2h0M1444.7,330.4h0M1442.1,328.7h0M1440.4,360.2h0M1435.1,422.4h0M1440.9,332.6h0M1437.9,323.0h0M1440.8,346.7h0M1439.4,311.6h0M1448.2,318.8h0M1438.6,396.4h0M1434.6,354.8h0M1442.7,362.3h0M1442.9,303.2h0M1443.6,317.3h0M1428.4,344.9h0M1434.9,331.8h0M1435.3,322.8h0M1432.1,368.4h0M1438.9,353.3h0M1651.4,371.8h0M1654.7,305.7h0M1651.3,335.5h0M1648.9,313.6h0M1651.2,347.5h0M1652.3,316.5h0M1648.7,351.7h0M1651.2,300.3h0M1652.3,330.1h0M1650.5,336.0h0M1651.9,381.3h0M1651.6,370.3h0M1649.5,337.3h0M1652.6,339.9h0M1653.2,339.9h0M1646.3,337.9h0M1649.9,310.3h0M1653.9,336.0h0M1652.9,336.0h0M1646.6,342.5h0M1821.5,287.2h0M1824.7,302.8h0M1826.3,320.8h0M1823.7,329.8h0M1821.6,238.5h0M1824.9,313.6h0M1826.4,305.0h0M1821.2,316.4h0M1826.9,272.4h0M1825.0,282.1h0M1827.0,280.1h0M1822.9,309.0h0M1827.0,277.8h0M1825.8,303.6h0M1826.7,274.6h0M1825.3,293.8h0M1827.2,326.0h0M1824.8,294.2h0M1824.2,305.4h0M1823.0,257.6h0" stroke="#ff0000" stroke-opacity="0.68" stroke-width="1.7" stroke-linecap="round" fill="none"/>
<path d="M1430.6,364.7h0M1435.4,490.2h0M1433.7,531.2h0M1435.1,444.6h0M1439.2,494.4h0M1440.8,459.1h0M1434.6,457.8h0M1428.3,449.6h0M1434.3,376.9h0M1433.5,446.3h0M1434.0,448.0h0M1433.7,460.5h0M1434.2,482.7h0M1425.9,478.9h0M1436.3,494.0h0M1436.1,426.3h0M1435.5,462.1h0M1433.7,433.0h0M1437.6,444.8h0M1427.7,377.6h0M1653.3,382.2h0M1655.5,359.2h0M1650.3,348.1h0M1655.4,330.6h0M1650.1,375.6h0M1656.4,392.0h0M1653.6,403.0h0M1651.5,385.4h0M1647.5,368.4h0M1651.8,370.2h0M1650.0,371.1h0M1653.1,365.4h0M1649.7,357.5h0M1653.4,400.4h0M1650.8,363.7h0M1653.7,368.3h0M1654.3,368.7h0M1652.6,374.2h0M1653.4,404.8h0M1655.1,355.0h0M1824.7,262.7h0M1826.7,309.1h0M1825.7,333.4h0M1828.1,281.4h0M1823.9,299.1h0M1824.4,312.1h0M1827.5,284.4h0M1828.8,295.0h0M1825.7,323.9h0M1827.8,292.2h0M1826.2,322.7h0M1825.2,284.6h0M1821.7,316.0h0M1829.7,320.8h0M1827.7,281.7h0M1820.4,277.8h0M1826.9,298.8h0M1823.9,314.5h0M1823.0,283.9h0M1824.0,292.2h0" stroke="#000080" stroke-opacity="0.68" stroke-width="1.7" stroke-linecap="round" fill="none"/>
<path d="M1440.9,350.9h0M1442.6,360.2h0M1441.9,357.5h0M1438.5,341.5h0M1444.3,385.4h0M1439.3,381.3h0M1427.5,325.7h0M1437.1,304.4h0M1435.4,294.4h0M1439.6,398.8h0M1436.6,337.5h0M1437.0,372.4h0M1443.5,363.8h0M1435.3,354.8h0M1432.9,336.9h0M1439.1,332.2h0M1440.7,418.0h0M1437.7,365.8h0M1438.1,317.3h0M1435.9,344.9h0M1652.4,348.6h0M1655.5,321.6h0M1654.1,336.6h0M1653.8,335.7h0M1651.5,323.1h0M1652.0,327.5h0M1648.7,313.9h0M1651.8,314.7h0M1658.0,352.7h0M1651.7,343.3h0M1649.3,310.5h0M1653.2,335.7h0M1646.3,316.7h0M1658.0,345.0h0M1653.5,374.1h0M1651.1,369.7h0M1650.8,341.5h0M1649.4,336.5h0M1652.1,284.4h0M1651.9,314.3h0M1821.9,312.0h0M1825.3,297.1h0M1824.4,296.9h0M1824.9,305.1h0M1824.5,303.5h0M1825.8,293.7h0M1825.2,287.9h0M1823.9,299.2h0M1826.7,296.9h0M1829.5,293.0h0M1823.3,306.9h0M1824.2,296.6h0M1826.3,292.6h0M1823.6,278.2h0M1827.3,283.3h0M1823.7,285.9h0M1822.6,279.8h0M1823.2,304.5h0M1827.4,276.8h0M1821.0,298.6h0" stroke="#ff0000" stroke-opacity="0.68" stroke-width="1.7" stroke-linecap="round" fill="none"/>
<path d="M1433.7,459.3h0M1436.3,434.2h0M1432.4,477.2h0M1433.8,415.0h0M1437.9,462.4h0M1433.4,454.0h0M1430.7,503.4h0M1432.2,435.5h0M1435.4,396.3h0M1430.1,407.1h0M1434.1,492.9h0M1432.5,423.3h0M1434.2,479.4h0M1436.9,512.5h0M1436.8,498.4h0M1434.3,410.2h0M1434.9,465.4h0M1437.0,497.2h0M1431.1,441.9h0M1434.6,442.7h0M1649.5,375.2h0M1653.7,367.6h0M1652.8,358.6h0M1656.5,364.2h0M1651.6,356.3h0M1654.8,356.0h0M1647.5,384.8h0M1655.5,389.4h0M1653.3,347.8h0M1653.2,381.6h0M1654.6,319.2h0M1648.7,388.5h0M1651.5,361.7h0M1652.3,366.7h0M1651.3,359.6h0M1650.7,385.1h0M1654.7,358.3h0M1652.2,323.0h0M1651.4,377.0h0M1652.2,412.2h0M1826.8,290.3h0M1825.1,301.3h0M1824.7,320.7h0M1824.8,302.8h0M1824.4,269.6h0M1826.3,306.2h0M1820.8,296.5h0M1822.3,295.5h0M1824.8,278.1h0M1822.7,289.6h0M1825.5,301.9h0M1824.4,261.6h0M1826.0,291.4h0M1824.8,289.1h0M1826.5,306.0h0M1825.2,321.0h0M1826.8,286.6h0M1824.5,300.5h0M1821.5,288.9h0M1825.3,333.3h0" stroke="#000080" stroke-opacity="0.68" stroke-width="1.7" stroke-linecap="round" fill="none"/>
<path d="M1433.0,395.0h0M1435.2,376.8h0M1434.0,371.7h0M1442.9,319.6h0M1437.1,298.2h0M1443.5,380.2h0M1437.6,334.1h0M1434.6,357.0h0M1438.8,332.3h0M1438.9,355.5h0M1443.2,381.1h0M1430.3,367.6h0M1436.4,367.8h0M1439.6,307.1h0M1435.2,370.7h0M1438.5,333.0h0M1437.0,373.3h0M1443.6,368.3h0M1443.0,342.6h0M1430.1,365.6h0M1647.6,315.2h0M1654.5,311.0h0M1650.9,358.2h0M1648.9,327.0h0M1654.4,330.1h0M1653.9,291.2h0M1650.3,341.1h0M1650.1,355.4h0M1654.8,326.5h0M1650.8,331.4h0M1652.4,326.0h0M1655.6,323.4h0M1648.6,324.8h0M1647.8,339.6h0M1649.6,335.9h0M1650.3,284.2h0M1652.0,339.2h0M1654.5,318.0h0M1650.7,346.3h0M1656.5,359.6h0M1825.4,295.3h0M1820.7,299.2h0M1826.7,283.7h0M1826.0,302.6h0M1826.6,284.9h0M1829.7,298.4h0M1825.1,300.7h0M1827.7,287.7h0M1826.6,305.9h0M1827.5,276.3h0M1823.8,303.9h0M1827.7,300.5h0M1824.8,276.3h0M1828.5,315.0h0M1827.4,280.7h0M1825.6,292.7h0M1826.7,292.4h0M1826.6,290.9h0M1826.0,306.9h0M1831.1,270.0h0" stroke="#ff0000" stroke-opacity="0.68" stroke-width="1.7" stroke-linecap="round" fill="none"/>
<path d="M1429.7,465.2h0M1438.7,437.0h0M1434.4,467.5h0M1429.2,410.8h0M1432.3,427.1h0M1436.9,456.6h0M1435.1,441.8h0M1427.9,422.8h0M1440.7,458.3h0M1435.0,436.2h0M1435.5,459.0h0M1433.0,466.3h0M1431.1,522.4h0M1428.5,499.3h0M1434.7,491.2h0M1434.1,453.9h0M1433.2,363.3h0M1437.0,489.4h0M1435.4,471.9h0M1430.3,501.9h0M1655.7,351.8h0M1657.2,356.6h0M1655.1,351.2h0M1653.5,382.6h0M1648.4,356.7h0M1650.6,346.6h0M1649.6,375.7h0M1649.5,364.4h0M1655.4,354.5h0M1650.4,349.6h0M1655.8,370.4h0M1652.4,361.2h0M1651.7,323.2h0M1651.5,322.6h0M1648.2,387.6h0M1651.0,319.3h0M1654.4,373.4h0M1654.0,342.9h0M1652.5,391.5h0M1654.0,369.6h0M1825.3,265.1h0M1824.2,293.7h0M1827.4,280.3h0M1826.4,313.1h0M1828.6,292.6h0M1824.5,291.6h0M1824.5,274.9h0M1826.4,280.7h0M1828.5,329.9h0M1823.9,290.5h0M1826.4,292.0h0M1825.3,299.9h0M1824.7,290.4h0M1827.3,284.1h0M1827.2,277.5h0M1826.9,314.1h0M1824.0,309.0h0M1825.4,293.4h0M1821.8,282.7h0M1826.5,311.0h0" stroke="#000080" stroke-opacity="0.68" stroke-width="1.7" stroke-linecap="round" fill="none"/>
<path d="M1432.1,292.7h0M1435.0,311.3h0M1437.8,381.7h0M1437.5,334.4h0M1436.1,305.9h0M1440.4,383.9h0M1441.5,360.9h0M1438.5,306.6h0M1437.0,372.9h0M1438.3,331.1h0M1434.9,351.5h0M1441.3,344.1h0M1441.3,379.0h0M1434.5,351.2h0M1443.8,361.7h0M1437.9,298.7h0M1441.3,330.8h0M1438.1,346.0h0M1437.4,349.8h0M1440.9,329.5h0M1652.5,310.5h0M1646.6,323.5h0M1651.8,302.2h0M1653.9,307.0h0M1654.9,322.0h0M1650.0,340.6h0M1651.7,290.1h0M1658.0,324.9h0M1652.4,285.8h0M1649.5,312.5h0M1647.8,308.4h0M1650.8,313.7h0M1653.0,316.4h0M1649.0,328.8h0M1655.6,281.0h0M1649.9,341.4h0M1646.8,353.0h0M1653.7,319.0h0M1652.1,336.8h0M1651.4,306.3h0M1823.8,286.0h0M1822.7,284.4h0M1822.8,282.2h0M1825.1,279.9h0M1825.5,289.4h0M1827.0,307.4h0M1827.7,312.5h0M1826.1,313.5h0M1825.9,300.5h0M1823.7,279.7h0M1827.7,312.8h0M1828.5,299.1h0M1825.4,285.6h0M1827.2,299.1h0M1824.3,298.0h0M1825.6,309.7h0M1825.9,291.9h0M1827.5,302.7h0M1822.6,304.4h0M1825.8,300.2h0" stroke="#ff0000" stroke-opacity="0.68" stroke-width="1.7" stroke-linecap="round" fill="none"/>
<path d="M1432.6,470.4h0M1438.4,464.8h0M1429.0,432.5h0M1442.2,505.9h0M1432.1,439.3h0M1443.9,448.3h0M1435.9,467.7h0M1428.2,501.0h0M1436.0,494.5h0M1434.6,464.4h0M1432.7,437.1h0M1434.5,461.0h0M1434.5,484.1h0M1422.0,447.3h0M1437.1,494.2h0M1433.2,429.4h0M1434.4,353.3h0M1437.0,477.5h0M1434.3,420.3h0M1429.7,491.3h0M1652.5,379.3h0M1653.2,348.2h0M1658.7,361.2h0M1652.5,356.3h0M1647.4,357.2h0M1646.4,361.4h0M1650.1,346.2h0M1652.7,363.1h0M1654.8,367.5h0M1652.0,379.2h0M1652.5,384.8h0M1653.8,377.1h0M1649.5,358.1h0M1652.0,344.3h0M1653.0,368.5h0M1651.0,323.7h0M1649.9,339.5h0M1653.6,365.0h0M1655.1,358.4h0M1652.3,366.3h0M1822.6,294.1h0M1824.8,316.2h0M1827.2,293.5h0M1824.9,297.3h0M1825.7,285.3h0M1824.0,270.1h0M1831.0,307.7h0M1822.8,286.7h0M1824.2,321.5h0M1825.1,288.6h0M1831.0,263.2h0M1824.3,320.9h0M1825.6,303.0h0M1827.2,349.3h0M1821.0,286.6h0M1827.4,255.9h0M1826.3,310.2h0M1828.8,288.1h0M1828.8,269.7h0M1826.7,307.3h0" stroke="#000080" stroke-opacity="0.68" stroke-width="1.7" stroke-linecap="round" fill="none"/>
<path d="M1434.4,395.3h0M1437.2,378.2h0M1433.5,375.8h0M1440.0,372.4h0M1437.3,396.7h0M1436.9,334.6h0M1436.1,363.0h0M1440.6,313.4h0M1439.2,352.9h0M1437.3,360.1h0M1436.4,336.8h0M1445.0,337.0h0M1443.9,357.7h0M1433.8,332.9h0M1442.8,313.4h0M1440.2,362.4h0M1439.4,312.4h0M1439.8,355.1h0M1432.9,324.6h0M1447.7,350.8h0M1655.4,327.9h0M1650.4,302.4h0M1653.9,322.7h0M1650.6,339.1h0M1656.4,330.6h0M1652.0,311.5h0M1652.1,336.1h0M1653.6,340.2h0M1651.8,328.1h0M1653.2,318.9h0M1651.4,301.8h0M1653.7,316.8h0M1652.2,308.8h0M1650.6,328.4h0M1653.6,290.4h0M1653.3,284.0h0M1649.2,337.1h0M1651.2,320.4h0M1647.5,327.2h0M1652.3,318.9h0M1827.5,289.1h0M1826.4,280.5h0M1827.1,311.0h0M1820.4,287.4h0M1823.8,310.3h0M1824.7,321.2h0M1824.0,304.1h0M1820.7,293.7h0M1827.8,295.3h0M1826.1,289.2h0M1821.5,323.5h0M1824.5,274.5h0M1825.6,282.7h0M1827.5,284.9h0M1826.9,317.3h0M1823.4,287.9h0M1824.1,301.6h0M1826.0,301.4h0M1827.6,294.2h0M1824.5,317.2h0" stroke="#ff0000" stroke-opacity="0.68" stroke-width="1.7" stroke-linecap="round" fill="none"/>
<path d="M1437.4,453.8h0M1433.1,437.9h0M1435.2,413.9h0M1431.6,455.5h0M1433.7,408.7h0M1430.6,501.4h0M1440.2,464.0h0M1430.3,456.7h0M1438.0,453.3h0M1427.2,461.0h0M1435.3,390.8h0M1433.3,470.0h0M1438.0,420.4h0M1435.2,441.1h0M1442.9,383.3h0M1445.4,463.7h0M1432.3,430.3h0M1437.0,435.3h0M1430.8,569.8h0M1430.7,441.1h0M1645.7,404.6h0M1650.0,348.6h0M1650.9,361.3h0M1653.3,401.3h0M1650.8,347.3h0M1650.9,377.8h0M1654.7,370.9h0M1655.5,402.2h0M1652.3,366.8h0M1649.1,357.0h0M1648.7,375.0h0M1653.8,366.3h0M1649.9,406.1h0M1651.9,355.0h0M1651.5,367.3h0M1652.4,367.1h0M1652.9,352.1h0M1649.2,344.4h0M1650.2,367.9h0M1652.5,347.2h0M1828.0,290.3h0M1824.2,307.2h0M1823.2,302.1h0M1825.1,293.3h0M1826.1,278.4h0M1825.0,289.6h0M1826.6,294.3h0M1827.0,296.6h0M1829.4,274.7h0M1825.3,284.7h0M1824.7,286.3h0M1826.7,325.9h0M1826.2,297.3h0M1826.9,312.3h0M1829.3,262.9h0M1824.0,281.7h0M1827.3,268.0h0M1828.6,308.0h0M1828.5,320.3h0M1822.6,307.5h0" stroke="#000080" stroke-opacity="0.68" stroke-width="1.7" stroke-linecap="round" fill="none"/>
<path d="M1446.1,360.5h0M1438.3,340.9h0M1438.2,381.6h0M1438.8,395.4h0M1435.6,350.7h0M1440.3,356.5h0M1438.0,381.7h0M1434.0,288.8h0M1436.3,337.8h0M1435.6,370.3h0M1435.8,334.7h0M1436.8,334.0h0M1440.5,360.7h0M1436.5,356.4h0M1431.8,402.7h0M1443.6,343.0h0M1435.8,295.5h0M1443.6,316.6h0M1439.0,319.6h0M1440.2,366.2h0M1654.3,330.7h0M1658.6,338.0h0M1652.8,349.2h0M1654.9,334.5h0M1656.0,324.7h0M1654.0,305.7h0M1647.0,314.5h0M1650.8,332.8h0M1653.0,337.4h0M1652.8,353.2h0M1652.4,312.4h0M1649.6,323.5h0M1647.0,313.9h0M1653.0,311.2h0M1655.2,315.1h0M1650.8,327.2h0M1653.5,330.8h0M1650.6,344.1h0M1651.7,337.4h0M1650.5,317.6h0M1824.1,278.9h0M1826.7,279.7h0M1825.8,282.8h0M1828.3,274.2h0M1826.5,318.5h0M1827.5,298.5h0M1821.3,299.1h0M1822.6,312.0h0M1822.2,282.5h0M1824.0,257.6h0M1826.1,309.1h0M1824.8,285.8h0M1826.4,292.9h0M1823.8,291.8h0M1827.4,292.5h0M1827.2,284.1h0M1821.7,302.8h0M1823.1,299.6h0M1824.0,270.3h0M1827.1,293.7h0" stroke="#ff0000" stroke-opacity="0.68" stroke-width="1.7" stroke-linecap="round" fill="none"/>
<path d="M1434.1,418.4h0M1437.7,400.9h0M1436.9,492.8h0M1433.7,462.1h0M1438.6,411.3h0M1430.0,494.7h0M1431.0,483.3h0M1434.1,433.7h0M1427.6,430.2h0M1439.5,406.9h0M1433.9,414.4h0M1433.2,446.9h0M1436.1,491.5h0M1429.4,477.3h0M1434.0,454.3h0M1428.0,440.8h0M1433.9,452.2h0M1434.9,425.6h0M1440.5,480.7h0M1434.5,469.1h0M1652.1,327.5h0M1648.3,389.4h0M1657.2,364.5h0M1648.2,400.8h0M1654.8,359.1h0M1647.5,337.5h0M1654.6,369.4h0M1647.1,390.8h0M1654.4,378.0h0M1652.4,357.8h0M1654.1,398.3h0M1649.9,396.4h0M1652.6,356.8h0M1652.6,395.4h0M1652.4,365.1h0M1650.4,389.2h0M1655.6,400.5h0M1647.0,349.4h0M1647.7,342.7h0M1647.9,383.1h0M1825.1,282.1h0M1828.5,305.3h0M1825.7,280.6h0M1826.7,269.5h0M1825.5,299.0h0M1828.5,275.8h0M1826.2,331.8h0M1825.1,314.9h0M1825.9,303.9h0M1828.7,299.1h0M1826.6,318.2h0M1822.2,299.6h0M1821.3,274.8h0M1827.1,278.2h0M1822.1,285.6h0M1825.9,309.2h0M1824.1,268.1h0M1826.0,281.5h0M1824.0,310.8h0M1820.5,275.7h0" stroke="#000080" stroke-opacity="0.68" stroke-width="1.7" stroke-linecap="round" fill="none"/>
<path d="M1434.8,380.4h0M1438.4,324.2h0M1436.6,340.9h0M1437.8,355.2h0M1439.9,358.5h0M1436.6,322.5h0M1441.3,331.5h0M1432.6,362.9h0M1433.9,352.8h0M1439.7,397.2h0M1440.1,383.2h0M1442.2,333.2h0M1444.3,362.6h0M1439.8,374.3h0M1441.0,341.7h0M1439.1,313.4h0M1438.7,373.5h0M1437.8,358.8h0M1438.6,356.8h0M1436.0,279.7h0M1654.3,283.5h0M1649.6,333.2h0M1652.4,321.3h0M1654.5,266.1h0M1652.0,324.0h0M1648.7,332.2h0M1653.1,325.7h0M1651.6,330.6h0M1648.6,362.2h0M1651.6,310.7h0M1651.3,359.6h0M1653.7,337.1h0M1650.7,334.7h0M1652.3,318.5h0M1653.7,331.1h0M1646.9,336.1h0M1654.7,343.5h0M1652.1,323.1h0M1649.4,334.1h0M1652.4,341.3h0M1827.0,294.0h0M1829.1,318.8h0M1822.1,287.2h0M1825.8,285.1h0M1825.3,290.0h0M1824.7,271.5h0M1825.0,322.1h0M1820.9,281.3h0M1825.9,317.2h0M1824.4,309.0h0M1822.6,322.4h0M1828.2,282.5h0M1823.8,296.1h0M1825.7,300.6h0M1823.8,293.9h0M1822.0,324.3h0M1824.3,303.3h0M1825.9,291.8h0M1823.1,303.1h0M1826.3,295.6h0" stroke="#ff0000" stroke-opacity="0.68" stroke-width="1.7" stroke-linecap="round" fill="none"/>
<path d="M1439.6,499.9h0M1434.5,382.3h0M1428.4,459.3h0M1437.4,418.7h0M1434.8,408.4h0M1432.3,440.6h0M1438.0,459.8h0M1430.5,471.0h0M1433.0,462.4h0M1437.2,514.7h0M1437.7,472.2h0M1432.0,426.0h0M1435.6,442.8h0M1434.8,423.5h0M1436.8,424.6h0M1433.6,427.8h0M1426.5,449.0h0M1433.1,446.2h0M1440.2,420.2h0M1431.3,466.0h0M1655.8,317.6h0M1649.5,363.0h0M1649.9,355.1h0M1649.9,362.3h0M1651.1,389.0h0M1651.2,344.0h0M1650.6,362.8h0M1647.8,355.0h0M1653.1,362.5h0M1651.9,373.9h0M1656.0,315.6h0M1653.1,356.1h0M1651.7,370.3h0M1648.0,351.2h0M1652.2,391.1h0M1653.6,357.6h0M1656.5,307.8h0M1653.0,379.6h0M1654.1,354.8h0M1653.6,390.4h0M1828.4,299.1h0M1825.4,283.4h0M1825.1,286.3h0M1828.7,282.6h0M1826.9,266.4h0M1827.7,248.5h0M1825.0,285.6h0M1825.7,290.3h0M1826.3,293.1h0M1824.1,284.2h0M1827.1,281.7h0M1826.3,315.1h0M1824.7,290.4h0M1824.5,251.6h0M1827.2,278.4h0M1825.0,272.8h0M1826.2,292.7h0M1826.0,253.8h0M1825.0,281.4h0M1818.6,297.3h0" stroke="#000080" stroke-opacity="0.68" stroke-width="1.7" stroke-linecap="round" fill="none"/>
<path d="M1437.6,320.3h0M1441.2,341.9h0M1440.1,390.2h0M1442.6,327.8h0M1436.4,333.2h0M1436.8,355.1h0M1439.8,370.9h0M1434.9,362.3h0M1434.7,396.6h0M1440.5,360.6h0M1437.0,362.6h0M1441.4,375.4h0M1438.5,358.7h0M1436.4,394.6h0M1434.1,317.3h0M1442.7,354.1h0M1437.8,383.3h0M1434.7,327.7h0M1432.3,333.7h0M1433.3,363.9h0M1654.8,353.0h0M1650.2,344.3h0M1650.5,325.6h0M1655.7,357.7h0M1656.2,326.0h0M1657.4,327.0h0M1652.1,307.3h0M1649.5,341.6h0M1649.5,347.2h0M1651.2,330.9h0M1649.4,336.4h0M1653.2,377.9h0M1655.4,307.1h0M1649.2,324.9h0M1656.0,326.8h0M1649.6,344.6h0M1650.2,322.7h0M1648.3,334.8h0M1654.0,299.8h0M1651.8,316.5h0M1828.9,317.2h0M1827.8,292.4h0M1824.6,299.2h0M1823.6,291.8h0M1827.2,272.7h0M1822.3,293.9h0M1823.1,303.5h0M1829.0,289.5h0M1826.1,310.9h0M1826.4,271.8h0M1824.7,295.0h0M1831.4,294.9h0M1832.0,288.1h0M1825.1,313.1h0M1827.2,295.5h0M1824.8,298.5h0M1826.4,264.9h0M1828.3,274.9h0M1828.2,269.4h0M1825.0,294.8h0" stroke="#ff0000" stroke-opacity="0.68" stroke-width="1.7" stroke-linecap="round" fill="none"/>
<path d="M1433.7,501.2h0M1437.6,423.4h0M1433.6,451.9h0M1430.4,414.9h0M1434.4,476.5h0M1433.7,512.2h0M1431.2,459.5h0M1433.9,476.3h0M1429.2,487.8h0M1428.5,398.8h0M1430.2,443.6h0M1433.8,495.4h0M1434.5,510.5h0M1432.2,457.4h0M1438.6,432.9h0M1436.8,443.7h0M1434.7,412.2h0M1438.8,442.1h0M1440.1,436.7h0M1437.2,521.2h0M1656.4,364.6h0M1655.1,341.6h0M1652.1,386.9h0M1648.0,385.1h0M1656.4,340.5h0M1652.2,359.6h0M1649.8,351.1h0M1648.0,353.9h0M1647.1,392.7h0M1652.7,401.7h0M1651.5,405.5h0M1652.8,354.7h0M1655.3,395.6h0M1650.3,403.2h0M1652.8,377.3h0M1650.5,368.6h0M1649.6,359.9h0M1645.9,404.2h0M1649.8,337.3h0M1654.9,385.7h0M1826.1,304.9h0M1827.1,283.4h0M1824.0,260.6h0M1824.0,303.3h0M1827.2,309.1h0M1822.8,332.6h0M1828.0,279.4h0M1826.6,310.9h0M1828.3,305.0h0M1825.3,310.8h0M1825.6,307.7h0M1826.0,278.5h0M1822.2,305.9h0M1823.6,289.5h0M1827.7,305.3h0M1824.0,299.0h0M1823.4,281.0h0M1826.1,281.1h0M1828.3,313.2h0M1825.3,292.3h0" stroke="#000080" stroke-opacity="0.68" stroke-width="1.7" stroke-linecap="round" fill="none"/>
<polyline points="1438.2,345.19 1652,328.74 1825.3,293.49" fill="none" stroke="#ff0000" stroke-width="1.8" stroke-linejoin="round"/>
<circle cx="1438.2" cy="345.19" r="2.6" fill="#ff0000"/>
<circle cx="1652" cy="328.74" r="2.6" fill="#ff0000"/>
<circle cx="1825.3" cy="293.49" r="2.6" fill="#ff0000"/>
<polyline points="1434.5,456.84 1652,362.82 1825.3,293.49" fill="none" stroke="#000080" stroke-width="1.8" stroke-linejoin="round"/>
<circle cx="1434.5" cy="456.84" r="2.6" fill="#000080"/>
<circle cx="1652" cy="362.82" r="2.6" fill="#000080"/>
<circle cx="1825.3" cy="293.49" r="2.6" fill="#000080"/>
<rect x="1169.55" y="501.7" width="238.45" height="181.15" fill="#fff"/>
<path d="M1193.87,682.85V677.29H1201.68V682.85ZM1201.68,682.85V673.82H1209.5V682.85ZM1209.5,682.85V677.29H1217.32V682.85ZM1217.32,682.85V665.13H1225.31V682.85ZM1225.31,682.85V646.89H1233.12V682.85ZM1233.12,682.85V643.42H1241.12V682.85ZM1241.12,682.85V607.81H1248.93V682.85ZM1248.93,682.85V622.92H1256.92V682.85ZM1256.92,682.85V595.65H1264.74V682.85ZM1264.74,682.85V604.68H1272.73V682.85ZM1272.73,682.85V610.76H1280.72V682.85ZM1280.72,682.85V626.05H1288.71V682.85ZM1288.71,682.85V662.01H1296.7V682.85ZM1296.7,682.85V668.09H1304.52V682.85ZM1304.52,682.85V668.09H1312.33V682.85ZM1320.15,682.85V677.29H1328.14V682.85Z" fill="#000080" fill-opacity="0.7" shape-rendering="crispEdges"/>
<path d="M1280.72,682.85V679.72H1288.71V682.85ZM1288.71,682.85V677.29H1296.7V682.85ZM1296.7,682.85V662.01H1304.52V682.85ZM1304.52,682.85V646.89H1312.33V682.85ZM1312.33,682.85V626.05H1320.15V682.85ZM1320.15,682.85V616.84H1328.14V682.85ZM1328.14,682.85V565.08H1336.13V682.85ZM1336.13,682.85V571.68H1343.95V682.85ZM1343.95,682.85V607.81H1351.94V682.85ZM1351.94,682.85V637.69H1359.93V682.85ZM1359.93,682.85V646.89H1367.74V682.85ZM1367.74,682.85V668.09H1375.91V682.85ZM1375.91,682.85V677.29H1383.72V682.85ZM1383.72,682.85V677.29H1391.71V682.85Z" fill="#ff0000" fill-opacity="0.7" shape-rendering="crispEdges"/>
<rect x="1169.55" y="501.7" width="238.45" height="181.15" fill="none" stroke="#000" stroke-width="1.15"/>
<text transform="translate(1153.68,702.55) scale(1.186,1.000)" font-size="16.4" stroke="#000" stroke-width="0.23">−</text>
<text transform="translate(1164.21,701.4) scale(1.000,1.020)" font-size="16.4">0.4</text>
<text transform="translate(1233.35,702.55) scale(1.186,1.000)" font-size="16.4" stroke="#000" stroke-width="0.23">−</text>
<text transform="translate(1243.88,701.4) scale(1.000,1.020)" font-size="16.4">0.3</text>
<text transform="translate(1312.97,702.55) scale(1.186,1.000)" font-size="16.4" stroke="#000" stroke-width="0.23">−</text>
<text transform="translate(1323.5,701.4) scale(1.000,1.020)" font-size="16.4">0.2</text>
<text transform="translate(1392.49,702.55) scale(1.186,1.000)" font-size="16.4" stroke="#000" stroke-width="0.23">−</text>
<text transform="translate(1403.02,701.4) scale(1.000,1.020)" font-size="16.4">0.1</text>
<text transform="translate(1282.61,530.66) scale(1.186,1.000)" font-size="19.5" stroke="#000" stroke-width="0.27">−</text>
<text transform="translate(1295.13,529.3) scale(1.000,1.020)" font-size="19.5">0.190</text>
<text transform="translate(1341.68,530.66) scale(1.246,1.000)" font-size="19.5" stroke="#000" stroke-width="0.27">±</text>
<text transform="translate(1357.53,529.3) scale(1.000,1.020)" font-size="19.5">0.024</text>
<text transform="translate(1181.3,557.37) scale(1.186,1.000)" font-size="19.5" stroke="#000" stroke-width="0.27">−</text>
<text transform="translate(1193.82,556) scale(1.000,1.020)" font-size="19.5">0.284</text>
<text transform="translate(1240.37,557.37) scale(1.246,1.000)" font-size="19.5" stroke="#000" stroke-width="0.27">±</text>
<text transform="translate(1256.22,556) scale(1.000,1.020)" font-size="19.5">0.030</text>
<rect x="1449" y="501.7" width="238.5" height="181.15" fill="#fff"/>
<path d="M1481.66,682.85V681.11H1490.69V682.85ZM1499.55,682.85V681.11H1508.41V682.85ZM1508.41,682.85V679.38H1517.26V682.85ZM1517.26,682.85V669.3H1526.3V682.85ZM1526.3,682.85V652.8H1535.16V682.85ZM1535.16,682.85V651.24H1544.19V682.85ZM1544.19,682.85V638.56H1553.05V682.85ZM1553.05,682.85V616.84H1562.08V682.85ZM1562.08,682.85V586.45H1570.94V682.85ZM1570.94,682.85V635.08H1579.8V682.85ZM1579.8,682.85V657.14H1588.83V682.85ZM1588.83,682.85V667.22H1597.69V682.85ZM1597.69,682.85V671.04H1606.37V682.85ZM1606.37,682.85V679.38H1615.41V682.85ZM1615.41,682.85V679.38H1624.09V682.85Z" fill="#000080" fill-opacity="0.7" shape-rendering="crispEdges"/>
<path d="M1535.16,682.85V681.11H1544.19V682.85ZM1544.19,682.85V672.78H1553.05V682.85ZM1553.05,682.85V675.03H1562.08V682.85ZM1562.08,682.85V667.22H1570.94V682.85ZM1570.94,682.85V638.56H1579.8V682.85ZM1579.8,682.85V621.19H1588.83V682.85ZM1588.83,682.85V610.76H1597.69V682.85ZM1597.69,682.85V594.61H1606.37V682.85ZM1606.37,682.85V635.08H1615.41V682.85ZM1615.41,682.85V652.8H1624.09V682.85ZM1624.09,682.85V672.78H1633.12V682.85ZM1633.12,682.85V672.78H1641.98V682.85Z" fill="#ff0000" fill-opacity="0.7" shape-rendering="crispEdges"/>
<rect x="1449" y="501.7" width="238.5" height="181.15" fill="none" stroke="#000" stroke-width="1.15"/>
<text transform="translate(1429.21,702.55) scale(1.186,1.000)" font-size="16.4" stroke="#000" stroke-width="0.23">−</text>
<text transform="translate(1439.74,701.4) scale(1.000,1.020)" font-size="16.4">0.30</text>
<text transform="translate(1488.85,702.55) scale(1.186,1.000)" font-size="16.4" stroke="#000" stroke-width="0.23">−</text>
<text transform="translate(1499.38,701.4) scale(1.000,1.020)" font-size="16.4">0.25</text>
<text transform="translate(1548.46,702.55) scale(1.186,1.000)" font-size="16.4" stroke="#000" stroke-width="0.23">−</text>
<text transform="translate(1558.99,701.4) scale(1.000,1.020)" font-size="16.4">0.20</text>
<text transform="translate(1608.1,702.55) scale(1.186,1.000)" font-size="16.4" stroke="#000" stroke-width="0.23">−</text>
<text transform="translate(1618.63,701.4) scale(1.000,1.020)" font-size="16.4">0.15</text>
<text transform="translate(1667.71,702.55) scale(1.186,1.000)" font-size="16.4" stroke="#000" stroke-width="0.23">−</text>
<text transform="translate(1678.24,701.4) scale(1.000,1.020)" font-size="16.4">0.10</text>
<text transform="translate(1562.39,530.66) scale(1.186,1.000)" font-size="19.5" stroke="#000" stroke-width="0.27">−</text>
<text transform="translate(1574.91,529.3) scale(1.000,1.020)" font-size="19.5">0.176</text>
<text transform="translate(1621.46,530.66) scale(1.246,1.000)" font-size="19.5" stroke="#000" stroke-width="0.27">±</text>
<text transform="translate(1637.31,529.3) scale(1.000,1.020)" font-size="19.5">0.016</text>
<text transform="translate(1460.75,557.37) scale(1.186,1.000)" font-size="19.5" stroke="#000" stroke-width="0.27">−</text>
<text transform="translate(1473.27,556) scale(1.000,1.020)" font-size="19.5">0.205</text>
<text transform="translate(1519.82,557.37) scale(1.246,1.000)" font-size="19.5" stroke="#000" stroke-width="0.27">±</text>
<text transform="translate(1535.67,556) scale(1.000,1.020)" font-size="19.5">0.018</text>
<rect x="1728.2" y="501.7" width="238.1" height="181.15" fill="#fff"/>
<path d="M1808.97,682.85V677.29H1817.66V682.85ZM1817.66,682.85V668.95H1826.52V682.85ZM1826.52,682.85V648.63H1835.55V682.85ZM1835.55,682.85V602.95H1844.41V682.85ZM1844.41,682.85V608.16H1853.27V682.85ZM1853.27,682.85V612.5H1862.12V682.85ZM1862.12,682.85V626.4H1870.98V682.85ZM1870.98,682.85V648.63H1880.02V682.85ZM1880.02,682.85V662.53H1888.87V682.85ZM1888.87,682.85V675.03H1897.73V682.85ZM1897.73,682.85V679.38H1906.77V682.85Z" fill="#000080" fill-opacity="0.7" shape-rendering="crispEdges"/>
<path d="M1817.66,682.85V670.69H1826.52V682.85ZM1826.52,682.85V650.72H1835.55V682.85ZM1835.55,682.85V628.48H1844.41V682.85ZM1844.41,682.85V568.55H1853.27V682.85ZM1853.27,682.85V592.53H1862.12V682.85ZM1862.12,682.85V622.92H1870.98V682.85ZM1870.98,682.85V656.79H1880.02V682.85ZM1880.02,682.85V675.03H1888.87V682.85ZM1888.87,682.85V679.38H1897.73V682.85Z" fill="#ff0000" fill-opacity="0.7" shape-rendering="crispEdges"/>
<rect x="1728.2" y="501.7" width="238.1" height="181.15" fill="none" stroke="#000" stroke-width="1.15"/>
<text transform="translate(1708.42,702.55) scale(1.186,1.000)" font-size="16.4" stroke="#000" stroke-width="0.23">−</text>
<text transform="translate(1718.95,701.4) scale(1.000,1.020)" font-size="16.4">0.25</text>
<text transform="translate(1767.94,702.55) scale(1.186,1.000)" font-size="16.4" stroke="#000" stroke-width="0.23">−</text>
<text transform="translate(1778.47,701.4) scale(1.000,1.020)" font-size="16.4">0.20</text>
<text transform="translate(1827.47,702.55) scale(1.186,1.000)" font-size="16.4" stroke="#000" stroke-width="0.23">−</text>
<text transform="translate(1838,701.4) scale(1.000,1.020)" font-size="16.4">0.15</text>
<text transform="translate(1886.99,702.55) scale(1.186,1.000)" font-size="16.4" stroke="#000" stroke-width="0.23">−</text>
<text transform="translate(1897.52,701.4) scale(1.000,1.020)" font-size="16.4">0.10</text>
<text transform="translate(1946.52,702.55) scale(1.186,1.000)" font-size="16.4" stroke="#000" stroke-width="0.23">−</text>
<text transform="translate(1957.05,701.4) scale(1.000,1.020)" font-size="16.4">0.05</text>
<text transform="translate(1841.68,530.66) scale(1.186,1.000)" font-size="19.5" stroke="#000" stroke-width="0.27">−</text>
<text transform="translate(1854.2,529.3) scale(1.000,1.020)" font-size="19.5">0.146</text>
<text transform="translate(1900.75,530.66) scale(1.246,1.000)" font-size="19.5" stroke="#000" stroke-width="0.27">±</text>
<text transform="translate(1916.6,529.3) scale(1.000,1.020)" font-size="19.5">0.012</text>
<text transform="translate(1739.95,557.37) scale(1.186,1.000)" font-size="19.5" stroke="#000" stroke-width="0.27">−</text>
<text transform="translate(1752.47,556) scale(1.000,1.020)" font-size="19.5">0.146</text>
<text transform="translate(1799.02,557.37) scale(1.246,1.000)" font-size="19.5" stroke="#000" stroke-width="0.27">±</text>
<text transform="translate(1814.87,556) scale(1.000,1.020)" font-size="19.5">0.015</text>
<rect x="1143.3" y="63.15" width="849.5" height="646.35" fill="none" stroke="#000" stroke-width="1.45"/>
<path d="M1227.93,59.6V66.7M1227.93,705.95V713.05M1312.95,59.6V66.7M1312.95,705.95V713.05M1397.96,59.6V66.7M1397.96,705.95V713.05M1482.98,59.6V66.7M1482.98,705.95V713.05M1567.99,59.6V66.7M1567.99,705.95V713.05M1653.01,59.6V66.7M1653.01,705.95V713.05M1738.03,59.6V66.7M1738.03,705.95V713.05M1823.04,59.6V66.7M1823.04,705.95V713.05M1908.05,59.6V66.7M1908.05,705.95V713.05M1139.75,121.91H1146.85M1989.25,121.91H1996.35M1139.75,180.67H1146.85M1989.25,180.67H1996.35M1139.75,239.43H1146.85M1989.25,239.43H1996.35M1139.75,298.19H1146.85M1989.25,298.19H1996.35M1139.75,356.95H1146.85M1989.25,356.95H1996.35M1139.75,415.7H1146.85M1989.25,415.7H1996.35M1139.75,474.46H1146.85M1989.25,474.46H1996.35M1139.75,533.22H1146.85M1989.25,533.22H1996.35M1139.75,591.98H1146.85M1989.25,591.98H1996.35M1139.75,650.74H1146.85M1989.25,650.74H1996.35M1139.75,709.5H1146.85M1989.25,709.5H1996.35" fill="none" stroke="#000" stroke-width="1.5"/>
<text transform="translate(1090.75,131.91) scale(1.000,1.050)" font-size="26.9">0.00</text>
<text transform="translate(1073.5,192.55) scale(1.186,1.000)" font-size="26.9" stroke="#000" stroke-width="0.38">−</text>
<text transform="translate(1090.78,190.67) scale(1.000,1.050)" font-size="26.9">0.05</text>
<text transform="translate(1073.48,251.31) scale(1.186,1.000)" font-size="26.9" stroke="#000" stroke-width="0.38">−</text>
<text transform="translate(1090.75,249.43) scale(1.000,1.050)" font-size="26.9">0.10</text>
<text transform="translate(1073.5,310.07) scale(1.186,1.000)" font-size="26.9" stroke="#000" stroke-width="0.38">−</text>
<text transform="translate(1090.78,308.19) scale(1.000,1.050)" font-size="26.9">0.15</text>
<text transform="translate(1073.48,368.83) scale(1.186,1.000)" font-size="26.9" stroke="#000" stroke-width="0.38">−</text>
<text transform="translate(1090.75,366.95) scale(1.000,1.050)" font-size="26.9">0.20</text>
<text transform="translate(1073.5,427.59) scale(1.186,1.000)" font-size="26.9" stroke="#000" stroke-width="0.38">−</text>
<text transform="translate(1090.78,425.7) scale(1.000,1.050)" font-size="26.9">0.25</text>
<text transform="translate(1073.48,486.35) scale(1.186,1.000)" font-size="26.9" stroke="#000" stroke-width="0.38">−</text>
<text transform="translate(1090.75,484.46) scale(1.000,1.050)" font-size="26.9">0.30</text>
<text transform="translate(1073.5,545.11) scale(1.186,1.000)" font-size="26.9" stroke="#000" stroke-width="0.38">−</text>
<text transform="translate(1090.78,543.22) scale(1.000,1.050)" font-size="26.9">0.35</text>
<text transform="translate(1073.48,603.86) scale(1.186,1.000)" font-size="26.9" stroke="#000" stroke-width="0.38">−</text>
<text transform="translate(1090.75,601.98) scale(1.000,1.050)" font-size="26.9">0.40</text>
<text transform="translate(1073.5,662.62) scale(1.186,1.000)" font-size="26.9" stroke="#000" stroke-width="0.38">−</text>
<text transform="translate(1090.78,660.74) scale(1.000,1.050)" font-size="26.9">0.45</text>
<text transform="translate(1073.48,721.38) scale(1.186,1.000)" font-size="26.9" stroke="#000" stroke-width="0.38">−</text>
<text transform="translate(1090.75,719.5) scale(1.000,1.050)" font-size="26.9">0.50</text>
<text transform="translate(1195.99,735.48) scale(1.186,1.000)" font-size="26.9" stroke="#000" stroke-width="0.38">−</text>
<text transform="translate(1213.26,733.6) scale(1.000,1.050)" font-size="26.9">11.5</text>
<text transform="translate(1280.99,735.48) scale(1.186,1.000)" font-size="26.9" stroke="#000" stroke-width="0.38">−</text>
<text transform="translate(1298.27,733.6) scale(1.000,1.050)" font-size="26.9">11.0</text>
<text transform="translate(1365.52,735.48) scale(1.186,1.000)" font-size="26.9" stroke="#000" stroke-width="0.38">−</text>
<text transform="translate(1382.79,733.6) scale(1.000,1.050)" font-size="26.9">10.5</text>
<text transform="translate(1450.52,735.48) scale(1.186,1.000)" font-size="26.9" stroke="#000" stroke-width="0.38">−</text>
<text transform="translate(1467.8,733.6) scale(1.000,1.050)" font-size="26.9">10.0</text>
<text transform="translate(1542.28,735.48) scale(1.186,1.000)" font-size="26.9" stroke="#000" stroke-width="0.38">−</text>
<text transform="translate(1559.55,733.6) scale(1.000,1.050)" font-size="26.9">9.5</text>
<text transform="translate(1627.28,735.48) scale(1.186,1.000)" font-size="26.9" stroke="#000" stroke-width="0.38">−</text>
<text transform="translate(1644.55,733.6) scale(1.000,1.050)" font-size="26.9">9.0</text>
<text transform="translate(1712.31,735.48) scale(1.186,1.000)" font-size="26.9" stroke="#000" stroke-width="0.38">−</text>
<text transform="translate(1729.58,733.6) scale(1.000,1.050)" font-size="26.9">8.5</text>
<text transform="translate(1797.31,735.48) scale(1.186,1.000)" font-size="26.9" stroke="#000" stroke-width="0.38">−</text>
<text transform="translate(1814.58,733.6) scale(1.000,1.050)" font-size="26.9">8.0</text>
<text transform="translate(1882.34,735.48) scale(1.186,1.000)" font-size="26.9" stroke="#000" stroke-width="0.38">−</text>
<text transform="translate(1899.61,733.6) scale(1.000,1.050)" font-size="26.9">7.5</text>
</g>
<g>
<path d="M1227.93,782.4V1249.15M1312.95,782.4V1249.15M1397.96,782.4V1249.15M1482.98,782.4V1249.15M1567.99,782.4V1249.15M1653.01,782.4V1249.15M1738.03,782.4V1249.15M1823.04,782.4V1249.15M1908.05,782.4V1249.15M1143.3,782.4H1992.8M1143.3,860.19H1992.8M1143.3,937.98H1992.8M1143.3,1015.78H1992.8M1143.3,1093.57H1992.8M1143.3,1171.36H1992.8M1143.3,1249.15H1992.8" fill="none" stroke="#00bbbb" stroke-opacity="0.34" stroke-width="0.85" stroke-dasharray="1.5 1.0"/>
<path d="M1434.5,980.6h0M1439.5,940.9h0M1435.5,908.3h0M1434.5,944.3h0M1439.8,976.9h0M1435.6,910.0h0M1437.7,980.1h0M1439.4,810.4h0M1435.7,876.2h0M1436.3,940.9h0M1439.1,993.0h0M1444.1,979.4h0M1439.1,989.0h0M1439.5,966.3h0M1437.4,923.2h0M1437.2,1021.1h0M1441.8,938.2h0M1435.1,947.2h0M1435.2,1002.0h0M1441.7,874.8h0M1434.9,920.6h0M1433.5,929.7h0M1438.7,980.4h0M1440.3,989.8h0M1442.6,946.0h0M1443.9,1031.4h0M1430.5,927.9h0M1436.7,1012.8h0M1436.3,949.8h0M1438.4,910.9h0M1434.7,963.8h0M1437.4,985.6h0M1438.1,991.6h0M1437.9,941.1h0M1434.7,1012.5h0M1438.0,952.3h0M1434.7,894.6h0M1434.7,1056.7h0M1436.5,994.8h0M1439.7,934.6h0M1431.2,1013.1h0M1437.1,1009.4h0M1441.5,1020.0h0M1437.8,902.4h0M1435.7,1072.0h0M1438.1,958.4h0M1442.1,963.2h0M1436.8,951.1h0M1435.2,996.4h0M1439.6,948.1h0M1436.5,981.8h0M1435.2,1001.2h0M1439.8,807.0h0M1434.7,895.8h0M1436.3,1014.2h0M1441.3,993.0h0M1437.7,928.6h0M1441.1,872.1h0M1431.9,964.1h0M1432.7,913.0h0M1434.9,941.7h0M1436.8,886.8h0M1431.4,983.4h0M1437.9,996.3h0M1435.6,937.2h0M1435.6,937.4h0M1437.3,950.2h0M1436.4,883.6h0M1433.6,913.5h0M1436.5,946.2h0M1433.6,1018.2h0M1441.2,913.6h0M1435.8,903.8h0M1436.4,988.4h0M1435.2,956.9h0M1437.3,1014.3h0M1437.9,945.1h0M1436.8,964.4h0M1434.0,1051.9h0M1440.6,951.7h0M1437.1,970.3h0M1431.5,970.9h0M1430.4,893.3h0M1433.7,924.4h0M1433.6,902.4h0M1432.1,969.6h0M1434.2,875.5h0M1438.1,994.5h0M1440.9,909.9h0M1437.8,1035.1h0M1438.2,938.8h0M1440.6,1008.5h0M1443.7,1032.9h0M1440.6,913.5h0M1439.0,940.4h0M1436.7,922.9h0M1434.1,948.9h0M1438.4,936.0h0M1440.8,953.0h0M1438.1,959.9h0M1435.5,944.2h0M1438.9,821.4h0M1436.9,1007.4h0M1435.3,1034.9h0M1431.2,1002.1h0M1438.8,987.9h0M1435.1,919.9h0M1440.7,887.9h0M1435.2,885.2h0M1437.4,961.5h0M1435.4,908.5h0M1442.5,844.4h0M1441.3,912.4h0M1437.1,874.7h0M1441.5,1002.2h0M1433.4,897.8h0M1439.1,902.4h0M1435.5,1016.4h0M1436.8,945.4h0M1435.8,912.5h0M1439.0,997.6h0M1431.8,896.7h0M1435.8,892.8h0M1441.3,930.6h0M1430.3,953.8h0M1436.5,958.6h0M1433.1,926.6h0M1429.1,884.5h0M1438.4,1024.4h0M1435.7,937.3h0M1441.0,934.1h0M1431.5,997.3h0M1438.3,1021.0h0M1442.0,961.0h0M1431.6,1043.6h0M1439.2,936.5h0M1439.3,965.1h0M1437.8,1011.5h0M1441.5,948.9h0M1439.3,997.7h0M1435.1,990.6h0M1434.9,883.7h0M1436.8,993.7h0M1442.3,1094.5h0M1436.9,933.4h0M1440.0,1009.3h0M1436.8,1001.2h0M1439.2,863.7h0M1438.9,954.9h0M1441.0,904.7h0M1442.9,1029.3h0M1435.8,1009.9h0M1433.8,998.6h0M1437.1,910.7h0M1437.2,989.5h0M1438.1,1060.7h0M1440.4,909.4h0M1436.1,981.5h0M1437.4,947.1h0M1437.4,909.1h0M1440.7,829.7h0M1436.1,954.1h0M1441.0,862.6h0M1443.3,1029.7h0M1436.7,942.7h0M1441.7,935.1h0M1439.1,1077.3h0M1437.2,1007.8h0M1443.6,993.2h0M1441.2,924.1h0M1436.5,979.9h0M1439.2,975.9h0M1435.4,990.4h0M1433.3,926.2h0M1440.7,955.5h0M1437.5,956.4h0M1442.5,965.2h0M1438.0,913.2h0M1438.4,991.6h0M1437.2,952.8h0M1438.0,950.2h0M1435.1,929.5h0M1436.8,893.8h0M1432.2,931.1h0M1432.0,1025.4h0M1433.3,893.6h0M1435.6,881.1h0M1437.2,877.5h0M1436.9,899.9h0M1441.1,1036.1h0M1445.0,955.0h0M1430.1,903.1h0M1441.9,901.5h0M1440.3,952.5h0M1435.7,939.8h0M1437.9,1008.4h0M1431.5,924.4h0M1436.7,1063.3h0M1442.2,958.9h0M1433.8,892.4h0" stroke="#ff0000" stroke-opacity="0.82" stroke-width="2.0" stroke-linecap="round" fill="none"/>
<path d="M1649.2,1004.7h0M1654.2,1104.1h0M1655.6,1044.5h0M1652.7,1017.8h0M1650.6,966.2h0M1650.7,1060.8h0M1649.2,999.1h0M1653.1,1002.4h0M1649.4,1013.9h0M1652.1,981.5h0M1649.5,1106.8h0M1652.8,1011.9h0M1648.9,1050.4h0M1651.4,1030.8h0M1650.2,1051.4h0M1653.7,1076.5h0M1650.9,1113.2h0M1651.3,1031.4h0M1653.9,1055.0h0M1649.4,1094.2h0M1649.2,1051.2h0M1651.5,1086.5h0M1649.6,1078.4h0M1655.0,1040.7h0M1651.9,1019.5h0M1652.1,1117.0h0M1651.0,1050.8h0M1645.3,1026.5h0M1654.2,1093.4h0M1651.4,1059.5h0M1647.5,1037.0h0M1649.4,1015.1h0M1651.6,1089.8h0M1654.1,1107.2h0M1652.3,1071.4h0M1652.3,1067.4h0M1652.3,1050.6h0M1649.8,1047.8h0M1650.3,1119.1h0M1651.6,1023.8h0M1648.9,1109.4h0M1651.7,1037.4h0M1652.9,1031.8h0M1646.8,1034.8h0M1651.1,1039.0h0M1651.0,1037.0h0M1651.8,1078.2h0M1655.1,1079.7h0M1648.8,973.7h0M1655.5,993.1h0M1652.9,1001.3h0M1656.6,1020.1h0M1650.8,1106.9h0M1652.3,982.4h0M1651.3,1057.6h0M1652.6,1050.8h0M1649.8,1022.2h0M1650.0,1074.0h0M1651.2,1002.7h0M1652.9,1136.9h0M1648.9,1005.8h0M1650.9,1031.4h0M1650.3,1080.8h0M1652.1,1019.6h0M1653.2,1008.1h0M1648.6,1021.4h0M1649.5,1016.2h0M1650.8,1059.1h0M1649.5,1012.2h0M1654.4,1012.2h0M1654.9,1003.9h0M1653.0,1026.4h0M1652.6,1110.7h0M1649.3,1031.3h0M1649.6,1098.0h0M1652.4,1078.8h0M1654.5,1055.8h0M1650.8,1045.3h0M1652.1,1062.3h0M1654.8,1040.1h0M1655.0,1033.6h0M1649.5,1045.6h0M1652.1,1049.6h0M1653.0,1039.9h0M1648.2,1027.8h0M1650.5,1086.2h0M1651.9,1107.1h0M1650.4,1015.1h0M1652.5,1048.8h0M1650.7,1137.4h0M1648.0,1013.5h0M1648.9,1012.6h0M1647.2,1120.2h0M1648.8,1096.9h0M1652.6,1072.9h0M1652.0,1098.4h0M1652.4,1077.1h0M1654.0,1056.6h0M1649.1,1018.6h0M1650.4,1144.1h0M1651.7,1051.0h0M1654.8,1014.7h0M1652.0,1142.4h0M1651.1,1042.4h0M1652.0,1056.4h0M1649.6,1074.5h0M1647.4,1026.0h0M1652.4,1005.4h0M1650.5,1013.4h0M1652.3,978.9h0M1649.0,1079.2h0M1649.6,1127.9h0M1652.9,1072.3h0M1651.8,1047.0h0M1653.3,1010.4h0M1650.0,1033.2h0M1651.5,1074.6h0M1652.8,1002.9h0M1653.2,1036.2h0M1651.3,1044.0h0M1652.0,1059.7h0M1651.2,1037.5h0M1651.1,1031.4h0M1651.3,1051.2h0M1652.3,1139.1h0M1648.7,1084.1h0M1651.3,1036.2h0M1649.3,994.9h0M1651.4,1009.1h0M1650.8,1011.5h0M1651.7,988.4h0M1650.8,1026.7h0M1651.0,1003.0h0M1648.5,1014.0h0M1654.1,1042.1h0M1648.5,1083.2h0M1647.5,1110.1h0M1652.0,1034.5h0M1652.4,1095.4h0M1651.1,1054.3h0M1650.6,1023.7h0M1649.0,1076.2h0M1655.0,1017.0h0M1647.8,1047.6h0M1655.9,1082.4h0M1648.1,1028.6h0M1649.2,1023.5h0M1650.8,1067.5h0M1650.3,1031.3h0M1652.2,1090.8h0M1649.5,1045.1h0M1650.5,1038.5h0M1648.1,1086.9h0M1653.6,1045.5h0M1650.6,996.3h0M1649.7,1072.5h0M1651.3,1090.6h0M1653.1,1101.3h0M1652.0,1077.4h0M1649.9,1089.5h0M1651.6,1109.5h0M1652.0,1045.1h0M1652.2,1036.8h0M1650.7,1084.3h0M1652.7,1046.3h0M1649.1,1014.3h0M1651.6,1035.3h0M1649.7,1041.5h0M1651.5,1023.2h0M1650.2,1072.1h0M1652.8,1015.4h0M1650.6,979.7h0M1653.8,1071.7h0M1649.5,1116.5h0M1653.5,1074.3h0M1649.7,1084.4h0M1646.4,1039.5h0M1649.4,1003.3h0M1653.2,1026.6h0M1651.8,984.4h0M1652.4,1030.5h0M1650.6,1044.1h0M1652.1,1117.8h0M1649.4,1032.7h0M1654.9,1070.1h0M1654.6,1066.4h0M1652.4,1056.7h0M1650.3,988.0h0M1650.2,1015.2h0M1652.7,1045.9h0M1652.2,1098.8h0M1649.7,1062.3h0M1653.0,1056.5h0M1653.2,1014.9h0M1652.6,1026.8h0M1652.3,1027.6h0M1652.0,1081.2h0M1651.6,1012.2h0M1651.0,948.6h0M1650.3,1098.0h0" stroke="#ff0000" stroke-opacity="0.82" stroke-width="2.0" stroke-linecap="round" fill="none"/>
<path d="M1823.1,1079.6h0M1824.8,1069.9h0M1826.2,1040.0h0M1825.1,1132.6h0M1824.9,1066.1h0M1827.0,1046.5h0M1823.1,1060.2h0M1821.6,1083.3h0M1822.3,1098.8h0M1825.9,1104.3h0M1826.1,1125.9h0M1824.1,1102.8h0M1822.4,1122.5h0M1823.3,1091.2h0M1825.2,1094.8h0M1826.1,1105.4h0M1823.7,1100.4h0M1823.3,1087.0h0M1823.2,1124.2h0M1823.7,1070.8h0M1825.6,1083.6h0M1824.9,1072.0h0M1825.1,1098.2h0M1824.7,1094.5h0M1824.9,1084.6h0M1822.6,1085.4h0M1822.9,1099.7h0M1825.1,1098.0h0M1825.2,1103.6h0M1826.2,1099.1h0M1824.5,1109.9h0M1823.2,1111.3h0M1824.3,1116.8h0M1824.2,1049.5h0M1825.4,1107.7h0M1824.3,1091.5h0M1825.4,1116.6h0M1825.4,1084.5h0M1825.4,1053.7h0M1825.5,1109.1h0M1823.1,1084.1h0M1826.4,1090.5h0M1827.2,1063.9h0M1826.0,1090.7h0M1827.2,1091.3h0M1825.4,1095.0h0M1823.9,1143.7h0M1825.6,1060.1h0M1824.7,1041.4h0M1824.6,1111.7h0M1827.2,1063.7h0M1823.5,1087.8h0M1826.5,1046.7h0M1824.0,1102.6h0M1822.2,1074.9h0M1826.0,1049.9h0M1825.0,1071.6h0M1825.2,1081.1h0M1825.3,1088.1h0M1826.5,1103.9h0M1825.5,1082.7h0M1824.5,1113.7h0M1824.8,1039.6h0M1825.6,1070.3h0M1824.1,1090.3h0M1825.5,1128.4h0M1821.9,1056.0h0M1824.8,1048.0h0M1824.9,1072.9h0M1826.0,1060.5h0M1823.3,1060.5h0M1824.6,1086.1h0M1825.6,1092.4h0M1829.2,1081.7h0M1825.2,1049.9h0M1825.9,1100.8h0M1824.1,1128.9h0M1828.2,1081.6h0M1824.6,1081.8h0M1824.6,1087.5h0M1825.2,1080.1h0M1823.0,1117.9h0M1823.4,1109.1h0M1824.4,1096.2h0M1823.7,1087.3h0M1826.4,1071.3h0M1824.2,1065.2h0M1828.2,1080.0h0M1825.3,1089.5h0M1823.8,1113.0h0M1825.1,1099.0h0M1825.9,1129.6h0M1824.9,1106.1h0M1825.5,1074.6h0M1824.5,1070.7h0M1823.7,1114.8h0M1824.7,1053.9h0M1827.4,1152.1h0M1824.2,1072.0h0M1824.7,1086.9h0M1822.5,1091.4h0M1823.8,1075.8h0M1825.3,1098.5h0M1824.3,1024.5h0M1826.5,1099.9h0M1826.2,1096.5h0M1824.1,1078.6h0M1824.6,1141.8h0M1825.7,1091.0h0M1825.3,1126.6h0M1824.3,1049.7h0M1822.0,1101.3h0M1826.8,1091.2h0M1824.8,1137.1h0M1825.0,1037.3h0M1823.7,1136.0h0M1827.0,1128.7h0M1824.6,1108.7h0M1825.0,1151.3h0M1821.7,1125.4h0M1824.0,1100.3h0M1824.6,1059.1h0M1825.3,1057.8h0M1825.7,1121.3h0M1824.4,1104.8h0M1826.2,1070.3h0M1824.5,1056.1h0M1824.4,1112.6h0M1824.7,1096.5h0M1822.2,1089.6h0M1821.4,1085.4h0M1827.4,1096.3h0M1822.1,1039.1h0M1823.8,1095.4h0M1825.5,1055.7h0M1823.7,1073.9h0M1826.3,989.8h0M1821.7,1047.1h0M1824.8,1142.4h0M1825.5,1070.4h0M1827.9,1146.0h0M1826.8,1050.5h0M1823.6,1096.9h0M1825.9,1148.0h0M1825.0,1116.7h0M1822.8,1098.6h0M1823.9,1048.4h0M1826.2,1086.2h0M1824.2,1075.4h0M1823.2,1108.0h0M1823.7,1103.0h0M1822.7,1131.7h0M1822.3,1101.2h0M1825.1,1098.0h0M1825.3,1092.5h0M1826.1,1114.3h0M1822.3,1097.3h0M1822.9,1104.2h0M1825.2,1084.7h0M1824.8,1110.0h0M1824.3,1109.2h0M1822.8,1117.7h0M1824.1,1112.2h0M1822.5,1101.0h0M1826.8,1122.0h0M1825.6,1058.0h0M1823.1,1064.1h0M1826.4,1082.9h0M1823.0,1071.6h0M1825.4,1127.9h0M1824.8,1111.2h0M1823.9,1106.6h0M1826.5,1086.6h0M1822.1,1070.5h0M1824.0,1069.0h0M1824.0,1134.5h0M1821.9,1094.7h0M1822.3,1061.5h0M1824.7,1100.5h0M1824.9,1079.9h0M1823.0,1140.8h0M1825.3,1092.0h0M1825.2,1100.6h0M1825.6,1149.7h0M1824.1,1070.5h0M1824.4,1054.2h0M1825.4,1069.8h0M1823.7,1102.8h0M1823.3,1096.8h0M1822.7,1111.6h0M1825.3,1075.6h0M1826.4,1079.5h0M1821.8,1052.1h0M1824.1,1092.8h0M1825.6,1066.3h0M1826.8,1099.1h0M1825.0,1112.8h0M1823.4,1093.0h0M1825.7,1117.0h0M1828.0,1117.1h0" stroke="#ff0000" stroke-opacity="0.82" stroke-width="2.0" stroke-linecap="round" fill="none"/>
<line x1="1143.3" y1="1093.57" x2="1992.8" y2="1093.57" stroke="#000" stroke-width="2.5" stroke-dasharray="8.93 3.87"/>
<path d="M1437.2,894.42V1006.44M1430.1,894.42h14.2M1430.1,1006.44h14.2M1651.5,1014.22V1085.79M1644.4,1014.22h14.2M1644.4,1085.79h14.2M1824.6,1062.45V1121.57M1817.5,1062.45h14.2M1817.5,1121.57h14.2" fill="none" stroke="#000" stroke-width="2.4"/>
<circle cx="1437.2" cy="950.43" r="4.5" fill="#000"/>
<circle cx="1651.5" cy="1050" r="4.5" fill="#000"/>
<circle cx="1824.6" cy="1092.01" r="4.5" fill="#000"/>
<polyline points="1141.2,944.4 1144.5,944.4 1147.8,944.4 1151.1,944.4 1154.4,944.4 1157.7,944.4 1161.0,944.4 1164.3,944.4 1167.6,944.4 1170.9,944.4 1174.2,944.4 1177.5,944.4 1180.8,944.4 1184.1,944.4 1187.4,944.4 1190.7,944.4 1193.9,944.4 1197.2,944.4 1200.5,944.4 1203.8,944.4 1207.1,944.4 1210.4,944.4 1213.7,944.4 1217.0,944.4 1220.3,944.4 1223.6,944.4 1226.9,944.4 1230.2,944.4 1233.5,944.4 1236.8,944.4 1240.1,944.4 1243.4,944.4 1246.7,944.5 1250.0,944.5 1253.3,944.5 1256.6,944.5 1259.9,944.5 1263.2,944.5 1266.5,944.5 1269.7,944.5 1273.0,944.5 1276.3,944.5 1279.6,944.5 1282.9,944.5 1286.2,944.5 1289.5,944.5 1292.8,944.5 1296.1,944.5 1299.4,944.5 1302.7,944.6 1306.0,944.6 1309.3,944.6 1312.6,944.6 1315.9,944.6 1319.2,944.6 1322.5,944.6 1325.8,944.7 1329.1,944.7 1332.4,944.7 1335.7,944.7 1339.0,944.8 1342.2,944.8 1345.5,944.8 1348.8,944.9 1352.1,944.9 1355.4,944.9 1358.7,945.0 1362.0,945.0 1365.3,945.1 1368.6,945.1 1371.9,945.2 1375.2,945.2 1378.5,945.3 1381.8,945.4 1385.1,945.5 1388.4,945.5 1391.7,945.6 1395.0,945.7 1398.3,945.8 1401.6,946.0 1404.9,946.1 1408.2,946.2 1411.5,946.4 1414.8,946.5 1418.0,946.7 1421.3,946.9 1424.6,947.1 1427.9,947.3 1431.2,947.5 1434.5,947.8 1437.8,948.0 1441.1,948.3 1444.4,948.6 1447.7,948.9 1451.0,949.3 1454.3,949.7 1457.6,950.1 1460.9,950.5 1464.2,951.0 1467.5,951.5 1470.8,952.0 1474.1,952.6 1477.4,953.2 1480.7,953.8 1484.0,954.5 1487.3,955.2 1490.5,956.0 1493.8,956.8 1497.1,957.7 1500.4,958.6 1503.7,959.6 1507.0,960.6 1510.3,961.7 1513.6,962.9 1516.9,964.1 1520.2,965.4 1523.5,966.7 1526.8,968.1 1530.1,969.5 1533.4,971.0 1536.7,972.6 1540.0,974.2 1543.3,975.9 1546.6,977.6 1549.9,979.4 1553.2,981.3 1556.5,983.2 1559.8,985.1 1563.1,987.1 1566.3,989.1 1569.6,991.2 1572.9,993.3 1576.2,995.4 1579.5,997.5 1582.8,999.7 1586.1,1001.9 1589.4,1004.1 1592.7,1006.3 1596.0,1008.5 1599.3,1010.7 1602.6,1012.9 1605.9,1015.0 1609.2,1017.2 1612.5,1019.4 1615.8,1021.5 1619.1,1023.7 1622.4,1025.8 1625.7,1027.8 1629.0,1029.9 1632.3,1031.9 1635.6,1033.9 1638.8,1035.8 1642.1,1037.7 1645.4,1039.6 1648.7,1041.4 1652.0,1043.2 1655.3,1044.9 1658.6,1046.6 1661.9,1048.3 1665.2,1049.9 1668.5,1051.5 1671.8,1053.0 1675.1,1054.5 1678.4,1055.9 1681.7,1057.3 1685.0,1058.7 1688.3,1060.0 1691.6,1061.3 1694.9,1062.5 1698.2,1063.7 1701.5,1064.9 1704.8,1066.0 1708.1,1067.1 1711.4,1068.1 1714.6,1069.1 1717.9,1070.1 1721.2,1071.0 1724.5,1071.9 1727.8,1072.8 1731.1,1073.6 1734.4,1074.4 1737.7,1075.2 1741.0,1076.0 1744.3,1076.7 1747.6,1077.4 1750.9,1078.1 1754.2,1078.7 1757.5,1079.3 1760.8,1079.9 1764.1,1080.5 1767.4,1081.0 1770.7,1081.5 1774.0,1082.0 1777.3,1082.5 1780.6,1083.0 1783.9,1083.4 1787.1,1083.9 1790.4,1084.3 1793.7,1084.7 1797.0,1085.0 1800.3,1085.4 1803.6,1085.7 1806.9,1086.1 1810.2,1086.4 1813.5,1086.7 1816.8,1087.0 1820.1,1087.3 1823.4,1087.5 1826.7,1087.8 1830.0,1088.0 1833.3,1088.3 1836.6,1088.5 1839.9,1088.7 1843.2,1088.9 1846.5,1089.1 1849.8,1089.3 1853.1,1089.5 1856.4,1089.7 1859.7,1089.8 1862.9,1090.0 1866.2,1090.2 1869.5,1090.3 1872.8,1090.4 1876.1,1090.6 1879.4,1090.7 1882.7,1090.8 1886.0,1091.0 1889.3,1091.1 1892.6,1091.2 1895.9,1091.3 1899.2,1091.4 1902.5,1091.5 1905.8,1091.6 1909.1,1091.7 1912.4,1091.7 1915.7,1091.8 1919.0,1091.9 1922.3,1092.0 1925.6,1092.0 1928.9,1092.1 1932.2,1092.2 1935.5,1092.2 1938.7,1092.3 1942.0,1092.3 1945.3,1092.4 1948.6,1092.4 1951.9,1092.5 1955.2,1092.5 1958.5,1092.6 1961.8,1092.6 1965.1,1092.7 1968.4,1092.7 1971.7,1092.7 1975.0,1092.8 1978.3,1092.8 1981.6,1092.8 1984.9,1092.9 1988.2,1092.9 1991.5,1092.9 1994.8,1093.0" fill="none" stroke="#bf00bf" stroke-width="2.4" clip-path="url(#cb1)"/>
<polyline points="1437.2,950.43 1651.5,1050 1824.6,1092.01" fill="none" stroke="#000" stroke-width="2.4"/>
<text transform="translate(1356.96,1146.5) scale(1.000,1.020)" font-size="29.4">0.092</text>
<text transform="translate(1427.15,1148.56) scale(1.246,1.000)" font-size="29.4" stroke="#000" stroke-width="0.41">±</text>
<text transform="translate(1451.04,1146.5) scale(1.000,1.020)" font-size="29.4">0.036</text>
<text transform="translate(1571.4,1177.3) scale(1.000,1.020)" font-size="29.4">0.028</text>
<text transform="translate(1641.59,1179.36) scale(1.246,1.000)" font-size="29.4" stroke="#000" stroke-width="0.41">±</text>
<text transform="translate(1665.48,1177.3) scale(1.000,1.020)" font-size="29.4">0.023</text>
<text transform="translate(1744.53,1207.9) scale(1.000,1.020)" font-size="29.4">0.001</text>
<text transform="translate(1814.71,1209.96) scale(1.246,1.000)" font-size="29.4" stroke="#000" stroke-width="0.41">±</text>
<text transform="translate(1838.61,1207.9) scale(1.000,1.020)" font-size="29.4">0.019</text>
<rect x="1143.3" y="782.4" width="849.5" height="466.75" fill="none" stroke="#000" stroke-width="1.45"/>
<path d="M1227.93,778.85V785.95M1227.93,1245.6V1252.7M1312.95,778.85V785.95M1312.95,1245.6V1252.7M1397.96,778.85V785.95M1397.96,1245.6V1252.7M1482.98,778.85V785.95M1482.98,1245.6V1252.7M1567.99,778.85V785.95M1567.99,1245.6V1252.7M1653.01,778.85V785.95M1653.01,1245.6V1252.7M1738.03,778.85V785.95M1738.03,1245.6V1252.7M1823.04,778.85V785.95M1823.04,1245.6V1252.7M1908.05,778.85V785.95M1908.05,1245.6V1252.7M1139.75,782.4H1146.85M1989.25,782.4H1996.35M1139.75,860.19H1146.85M1989.25,860.19H1996.35M1139.75,937.98H1146.85M1989.25,937.98H1996.35M1139.75,1015.78H1146.85M1989.25,1015.78H1996.35M1139.75,1093.57H1146.85M1989.25,1093.57H1996.35M1139.75,1171.36H1146.85M1989.25,1171.36H1996.35M1139.75,1249.15H1146.85M1989.25,1249.15H1996.35" fill="none" stroke="#000" stroke-width="1.5"/>
<text transform="translate(1090.75,792.4) scale(1.000,1.050)" font-size="26.9">0.20</text>
<text transform="translate(1090.78,870.19) scale(1.000,1.050)" font-size="26.9">0.15</text>
<text transform="translate(1090.75,947.98) scale(1.000,1.050)" font-size="26.9">0.10</text>
<text transform="translate(1090.78,1025.78) scale(1.000,1.050)" font-size="26.9">0.05</text>
<text transform="translate(1090.75,1103.57) scale(1.000,1.050)" font-size="26.9">0.00</text>
<text transform="translate(1073.5,1183.24) scale(1.186,1.000)" font-size="26.9" stroke="#000" stroke-width="0.38">−</text>
<text transform="translate(1090.78,1181.36) scale(1.000,1.050)" font-size="26.9">0.05</text>
<text transform="translate(1073.48,1261.03) scale(1.186,1.000)" font-size="26.9" stroke="#000" stroke-width="0.38">−</text>
<text transform="translate(1090.75,1259.15) scale(1.000,1.050)" font-size="26.9">0.10</text>
<text transform="translate(1195.99,1275.13) scale(1.186,1.000)" font-size="26.9" stroke="#000" stroke-width="0.38">−</text>
<text transform="translate(1213.26,1273.25) scale(1.000,1.050)" font-size="26.9">11.5</text>
<text transform="translate(1280.99,1275.13) scale(1.186,1.000)" font-size="26.9" stroke="#000" stroke-width="0.38">−</text>
<text transform="translate(1298.27,1273.25) scale(1.000,1.050)" font-size="26.9">11.0</text>
<text transform="translate(1365.52,1275.13) scale(1.186,1.000)" font-size="26.9" stroke="#000" stroke-width="0.38">−</text>
<text transform="translate(1382.79,1273.25) scale(1.000,1.050)" font-size="26.9">10.5</text>
<text transform="translate(1450.52,1275.13) scale(1.186,1.000)" font-size="26.9" stroke="#000" stroke-width="0.38">−</text>
<text transform="translate(1467.8,1273.25) scale(1.000,1.050)" font-size="26.9">10.0</text>
<text transform="translate(1542.28,1275.13) scale(1.186,1.000)" font-size="26.9" stroke="#000" stroke-width="0.38">−</text>
<text transform="translate(1559.55,1273.25) scale(1.000,1.050)" font-size="26.9">9.5</text>
<text transform="translate(1627.28,1275.13) scale(1.186,1.000)" font-size="26.9" stroke="#000" stroke-width="0.38">−</text>
<text transform="translate(1644.55,1273.25) scale(1.000,1.050)" font-size="26.9">9.0</text>
<text transform="translate(1712.31,1275.13) scale(1.186,1.000)" font-size="26.9" stroke="#000" stroke-width="0.38">−</text>
<text transform="translate(1729.58,1273.25) scale(1.000,1.050)" font-size="26.9">8.5</text>
<text transform="translate(1797.31,1275.13) scale(1.186,1.000)" font-size="26.9" stroke="#000" stroke-width="0.38">−</text>
<text transform="translate(1814.58,1273.25) scale(1.000,1.050)" font-size="26.9">8.0</text>
<text transform="translate(1882.34,1275.13) scale(1.186,1.000)" font-size="26.9" stroke="#000" stroke-width="0.38">−</text>
<text transform="translate(1899.61,1273.25) scale(1.000,1.050)" font-size="26.9">7.5</text>
</g>
<rect x="138.9" y="80" width="406.3" height="106.2" rx="4.2" fill="#fff" fill-opacity="0.8" stroke="#ccc" stroke-opacity="0.55" stroke-width="1.1"/>
<circle cx="185.9" cy="108.3" r="2.7" fill="#ff0000"/><circle cx="185.9" cy="156.4" r="2.7" fill="#000080"/>
<text x="245.91" y="116.9" font-size="34">observed ensemble</text>
<text x="246.22" y="164.6" font-size="34">Newtonian ensemble</text>
<text x="635.75" y="135.7" font-size="58.2">clean sample</text>
<text x="1665.26" y="135.7" font-size="57.9">strict sample</text>
<text x="783.23" y="188.8" font-size="33.3" font-style="italic">f</text>
<text x="794.48" y="192.96" font-size="23.31">multi</text>
<text transform="translate(849.53,191.13) scale(1.302,1.000)" font-size="33.3" stroke="#000" stroke-width="0.47">=</text>
<text transform="translate(879.83,188.8) scale(1.000,1.030)" font-size="33.3">0.43</text>
<text transform="translate(1902.22,188.8) scale(1.000,1.030)" font-size="33.3">0.41</text>
<rect x="380.4" y="797.6" width="576.8" height="50.6" rx="4.2" fill="#fff" fill-opacity="0.8" stroke="#ccc" stroke-opacity="0.55" stroke-width="1.1"/>
<line x1="391.6" y1="819" x2="451" y2="819" stroke="#bf00bf" stroke-width="2.4"/>
<text x="472.64" y="830.8" font-size="29.5" font-style="italic">δ</text>
<text x="486.35" y="834.49" font-size="20.65">AQUAL</text>
<text transform="translate(561.62,835.93) scale(1.186,1.000)" font-size="20.65" stroke="#000" stroke-width="0.29">−</text>
<text x="578.66" y="834.49" font-size="20.65">Newton</text>
<text x="651.33" y="830.7" font-size="28.9">(circular orbit prediction)</text>
<text x="529.38" y="1313.9" font-size="48" font-style="italic">x</text>
<text x="550.69" y="1319.9" font-size="33.6">0</text>
<text x="1550.88" y="1313.9" font-size="48" font-style="italic">x</text>
<text x="1572.19" y="1319.9" font-size="33.6">0</text>
<g transform="translate(38,384.3) rotate(-90)">
<text transform="translate(-49.54,1.78) scale(0.940,1.100)" font-size="48" class="math">⟨</text>
<text x="-29.24" y="0" font-size="48">Δ</text>
<text x="4.03" y="6" font-size="31.68" class="math">⊥</text>
<text transform="translate(30.68,1.78) scale(0.940,1.100)" font-size="48" class="math">⟩</text>
</g>
<g transform="translate(40,1017) rotate(-90)">
<text x="-84.06" y="0" font-size="48" font-style="italic">δ</text>
<text x="-61.75" y="6" font-size="33.6">obs</text>
<text transform="translate(-10.18,8.35) scale(1.186,1.000)" font-size="33.6" stroke="#000" stroke-width="0.47">−</text>
<text x="17.54" y="6" font-size="33.6">newt</text>
</g>
<text x="148.09" y="40.6" font-size="52.8">distance</text>
<text transform="translate(342.99,44.3) scale(1.221,1.000)" font-size="52.8" stroke="#000" stroke-width="0.74">&lt;</text>
<text x="387.99" y="40.6" font-size="52.8">80</text>
<text x="453.65" y="40.6" font-size="52.8">pc:</text>
<text x="525.41" y="40.6" font-size="52.8" font-style="italic">f</text>
<text x="546.72" y="47" font-size="36.96">multi</text>
<text x="642.08" y="40.6" font-size="52.8">fitted</text>
<text x="769.48" y="40.6" font-size="52.8">to</text>
<text x="823.18" y="40.6" font-size="52.8">the</text>
<text x="899.68" y="40.6" font-size="52.8">Newtonian</text>
<text x="1147.85" y="40.6" font-size="52.8">prediction</text>
<text transform="translate(1376.49,44.19) scale(0.830,1.077)" font-size="52.8" class="math">⟨</text>
<text x="1395.95" y="40.6" font-size="52.8" font-style="italic">δ</text>
<text x="1421.09" y="47" font-size="36.96">obs</text>
<text transform="translate(1479.02,49.59) scale(1.186,1.000)" font-size="36.96" stroke="#000" stroke-width="0.52">−</text>
<text x="1510.35" y="47" font-size="36.96">newt</text>
<text transform="translate(1586.38,44.19) scale(0.830,1.077)" font-size="52.8" class="math">⟩</text>
<text transform="translate(1612.08,44.3) scale(1.302,1.000)" font-size="52.8" stroke="#000" stroke-width="0.74">=</text>
<text x="1657.99" y="40.6" font-size="52.8">0</text>
<text x="1698.14" y="40.6" font-size="52.8">at</text>
<text x="1749.34" y="40.6" font-size="52.8" font-style="italic">x</text>
<text x="1772.29" y="47" font-size="36.96">0</text>
<text transform="translate(1800.28,44.3) scale(1.302,1.000)" font-size="52.8" stroke="#000" stroke-width="0.74">=</text>
<text transform="translate(1853.08,44.3) scale(1.186,1.000)" font-size="52.8" stroke="#000" stroke-width="0.74">−</text>
<text x="1897.99" y="40.6" font-size="52.8">8.0</text>
</svg></body></html>
